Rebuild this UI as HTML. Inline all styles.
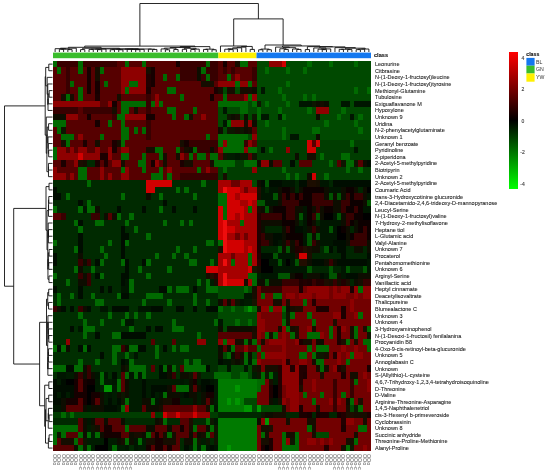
<!DOCTYPE html>
<html><head><meta charset="utf-8"><style>
html,body{margin:0;padding:0;background:#fff;}
svg{display:block;}
text{font-family:"Liberation Sans",Arial,sans-serif;}
</style></head><body>
<svg width="550" height="473" viewBox="0 0 550 473">
<defs>
<linearGradient id="cb" x1="0" y1="0" x2="0" y2="1">
<stop offset="0" stop-color="#ff0000"/>
<stop offset="0.5" stop-color="#000000"/>
<stop offset="1" stop-color="#00ff00"/>
</linearGradient>
<filter id="bl" x="-2%" y="-2%" width="104%" height="104%"><feGaussianBlur stdDeviation="0.55"/></filter>
</defs>
<rect width="550" height="473" fill="#fff"/>
<g filter="url(#bl)"><g shape-rendering="crispEdges">
<rect x="53" y="60.8" width="318" height="390.6" fill="#300000"/>
<path fill="#006a00" d="M53 60.8h4.24v6.62h-4.24zM78.44 60.8h4.24v6.62h-4.24zM125.08 60.8h4.24v6.62h-4.24zM142.04 60.8h4.24v6.62h-4.24zM205.64 60.8h4.24v6.62h-4.24zM239.56 60.8h8.48v6.62h-8.48zM307.4 60.8h4.24v6.62h-4.24zM328.6 60.8h4.24v6.62h-4.24zM354.04 60.8h4.24v6.62h-4.24zM57.24 67.42h4.24v6.62h-4.24zM78.44 67.42h4.24v6.62h-4.24zM99.64 67.42h4.24v6.62h-4.24zM201.4 67.42h4.24v6.62h-4.24zM265 67.42h4.24v6.62h-4.24zM286.2 67.42h4.24v6.62h-4.24zM303.16 67.42h4.24v6.62h-4.24zM163.24 74.04h4.24v6.62h-4.24zM175.96 74.04h4.24v6.62h-4.24zM205.64 74.04h4.24v6.62h-4.24zM226.84 74.04h4.24v6.62h-4.24zM69.96 80.66h4.24v6.62h-4.24zM103.88 80.66h4.24v6.62h-4.24zM129.32 80.66h8.48v6.62h-8.48zM235.32 80.66h4.24v6.62h-4.24zM248.04 80.66h4.24v6.62h-4.24zM286.2 80.66h4.24v6.62h-4.24zM78.44 87.28h4.24v6.62h-4.24zM125.08 87.28h4.24v6.62h-4.24zM167.48 87.28h8.48v6.62h-8.48zM277.72 87.28h4.24v6.62h-4.24zM354.04 87.28h4.24v6.62h-4.24zM366.76 87.28h4.24v6.62h-4.24zM65.72 93.9h4.24v6.62h-4.24zM78.44 93.9h4.24v6.62h-4.24zM180.2 93.9h4.24v6.62h-4.24zM222.6 93.9h4.24v6.62h-4.24zM248.04 93.9h4.24v6.62h-4.24zM281.96 93.9h4.24v6.62h-4.24zM303.16 93.9h4.24v6.62h-4.24zM311.64 93.9h4.24v6.62h-4.24zM120.84 100.52h25.44v6.62h-25.44zM150.52 100.52h4.24v6.62h-4.24zM159 100.52h4.24v6.62h-4.24zM218.36 100.52h29.68v6.62h-29.68zM252.28 100.52h4.24v6.62h-4.24zM265 100.52h4.24v6.62h-4.24zM286.2 100.52h4.24v6.62h-4.24zM120.84 107.14h8.48v6.62h-8.48zM167.48 107.14h8.48v6.62h-8.48zM192.92 107.14h4.24v6.62h-4.24zM239.56 107.14h8.48v6.62h-8.48zM256.52 107.14h4.24v6.62h-4.24zM277.72 107.14h4.24v6.62h-4.24zM307.4 107.14h4.24v6.62h-4.24zM341.32 107.14h4.24v6.62h-4.24zM116.6 113.76h8.48v6.62h-8.48zM171.72 113.76h4.24v6.62h-4.24zM184.44 113.76h4.24v6.62h-4.24zM256.52 113.76h4.24v6.62h-4.24zM281.96 113.76h4.24v6.62h-4.24zM337.08 113.76h4.24v6.62h-4.24zM358.28 113.76h4.24v6.62h-4.24zM53 120.38h12.72v6.62h-12.72zM108.12 120.38h4.24v6.62h-4.24zM120.84 120.38h4.24v6.62h-4.24zM226.84 120.38h4.24v6.62h-4.24zM265 120.38h4.24v6.62h-4.24zM324.36 120.38h4.24v6.62h-4.24zM354.04 120.38h4.24v6.62h-4.24zM57.24 127h4.24v6.62h-4.24zM120.84 127h8.48v6.62h-8.48zM133.56 127h4.24v6.62h-4.24zM142.04 127h4.24v6.62h-4.24zM281.96 127h4.24v6.62h-4.24zM311.64 127h8.48v6.62h-8.48zM358.28 127h4.24v6.62h-4.24zM61.48 133.62h12.72v6.62h-12.72zM99.64 133.62h4.24v6.62h-4.24zM120.84 133.62h8.48v6.62h-8.48zM205.64 133.62h4.24v6.62h-4.24zM218.36 133.62h29.68v6.62h-29.68zM281.96 133.62h4.24v6.62h-4.24zM65.72 140.24h4.24v6.62h-4.24zM120.84 140.24h4.24v6.62h-4.24zM218.36 140.24h4.24v6.62h-4.24zM226.84 140.24h16.96v6.62h-16.96zM349.8 140.24h4.24v6.62h-4.24zM53 146.86h4.24v6.62h-4.24zM154.76 146.86h8.48v6.62h-8.48zM175.96 146.86h4.24v6.62h-4.24zM192.92 146.86h4.24v6.62h-4.24zM222.6 146.86h21.2v6.62h-21.2zM248.04 146.86h8.48v6.62h-8.48zM269.24 146.86h4.24v6.62h-4.24zM53 153.48h4.24v6.62h-4.24zM120.84 153.48h8.48v6.62h-8.48zM142.04 153.48h4.24v6.62h-4.24zM159 153.48h4.24v6.62h-4.24zM188.68 153.48h4.24v6.62h-4.24zM197.16 153.48h8.48v6.62h-8.48zM209.88 153.48h8.48v6.62h-8.48zM320.12 153.48h4.24v6.62h-4.24zM341.32 153.48h8.48v6.62h-8.48zM137.8 160.11h8.48v6.62h-8.48zM214.12 160.11h21.2v6.62h-21.2zM243.8 160.11h12.72v6.62h-12.72zM328.6 160.11h4.24v6.62h-4.24zM345.56 160.11h8.48v6.62h-8.48zM78.44 166.73h8.48v6.62h-8.48zM120.84 166.73h4.24v6.62h-4.24zM142.04 166.73h4.24v6.62h-4.24zM159 166.73h4.24v6.62h-4.24zM197.16 166.73h4.24v6.62h-4.24zM222.6 166.73h4.24v6.62h-4.24zM281.96 166.73h4.24v6.62h-4.24zM345.56 166.73h4.24v6.62h-4.24zM358.28 166.73h4.24v6.62h-4.24zM78.44 173.35h8.48v6.62h-8.48zM150.52 173.35h12.72v6.62h-12.72zM167.48 173.35h4.24v6.62h-4.24zM286.2 173.35h4.24v6.62h-4.24zM294.68 173.35h4.24v6.62h-4.24zM324.36 173.35h4.24v6.62h-4.24zM86.92 179.97h4.24v6.62h-4.24zM201.4 179.97h4.24v6.62h-4.24zM175.96 186.59h4.24v6.62h-4.24zM184.44 186.59h4.24v6.62h-4.24zM65.72 193.21h4.24v6.62h-4.24zM120.84 193.21h4.24v6.62h-4.24zM159 193.21h4.24v6.62h-4.24zM192.92 193.21h4.24v6.62h-4.24zM218.36 193.21h8.48v6.62h-8.48zM86.92 199.83h4.24v6.62h-4.24zM218.36 199.83h8.48v6.62h-8.48zM53 206.45h4.24v6.62h-4.24zM78.44 206.45h4.24v6.62h-4.24zM86.92 206.45h8.48v6.62h-8.48zM159 206.45h4.24v6.62h-4.24zM222.6 206.45h4.24v6.62h-4.24zM248.04 206.45h4.24v6.62h-4.24zM116.6 213.07h4.24v6.62h-4.24zM129.32 213.07h4.24v6.62h-4.24zM222.6 213.07h4.24v6.62h-4.24zM74.2 219.69h4.24v6.62h-4.24zM95.4 219.69h8.48v6.62h-8.48zM125.08 219.69h4.24v6.62h-4.24zM163.24 219.69h4.24v6.62h-4.24zM180.2 219.69h4.24v6.62h-4.24zM188.68 219.69h4.24v6.62h-4.24zM239.56 219.69h4.24v6.62h-4.24zM78.44 226.31h4.24v6.62h-4.24zM133.56 226.31h4.24v6.62h-4.24zM146.28 232.93h4.24v6.62h-4.24zM53 239.55h4.24v6.62h-4.24zM108.12 239.55h4.24v6.62h-4.24zM125.08 239.55h4.24v6.62h-4.24zM205.64 239.55h8.48v6.62h-8.48zM218.36 239.55h4.24v6.62h-4.24zM74.2 246.17h4.24v6.62h-4.24zM99.64 246.17h4.24v6.62h-4.24zM175.96 246.17h4.24v6.62h-4.24zM192.92 246.17h4.24v6.62h-4.24zM103.88 252.79h4.24v6.62h-4.24zM154.76 252.79h4.24v6.62h-4.24zM171.72 252.79h4.24v6.62h-4.24zM184.44 252.79h4.24v6.62h-4.24zM248.04 252.79h4.24v6.62h-4.24zM99.64 259.41h4.24v6.62h-4.24zM120.84 259.41h4.24v6.62h-4.24zM146.28 259.41h4.24v6.62h-4.24zM188.68 259.41h8.48v6.62h-8.48zM209.88 259.41h4.24v6.62h-4.24zM231.08 259.41h4.24v6.62h-4.24zM248.04 259.41h4.24v6.62h-4.24zM74.2 266.03h4.24v6.62h-4.24zM91.16 266.03h4.24v6.62h-4.24zM137.8 266.03h4.24v6.62h-4.24zM167.48 266.03h4.24v6.62h-4.24zM53 272.65h4.24v6.62h-4.24zM99.64 272.65h4.24v6.62h-4.24zM146.28 272.65h4.24v6.62h-4.24zM248.04 272.65h8.48v6.62h-8.48zM65.72 279.27h4.24v6.62h-4.24zM129.32 279.27h4.24v6.62h-4.24zM197.16 279.27h4.24v6.62h-4.24zM205.64 279.27h4.24v6.62h-4.24zM252.28 279.27h4.24v6.62h-4.24zM129.32 285.89h4.24v6.62h-4.24zM167.48 285.89h4.24v6.62h-4.24zM175.96 285.89h12.72v6.62h-12.72zM205.64 285.89h12.72v6.62h-12.72zM243.8 285.89h4.24v6.62h-4.24zM358.28 285.89h4.24v6.62h-4.24zM57.24 292.51h4.24v6.62h-4.24zM69.96 292.51h4.24v6.62h-4.24zM91.16 292.51h4.24v6.62h-4.24zM116.6 292.51h4.24v6.62h-4.24zM146.28 292.51h16.96v6.62h-16.96zM192.92 292.51h4.24v6.62h-4.24zM260.76 292.51h4.24v6.62h-4.24zM273.48 292.51h8.48v6.62h-8.48zM57.24 299.13h4.24v6.62h-4.24zM95.4 299.13h8.48v6.62h-8.48zM142.04 299.13h4.24v6.62h-4.24zM167.48 299.13h4.24v6.62h-4.24zM192.92 299.13h4.24v6.62h-4.24zM205.64 299.13h4.24v6.62h-4.24zM303.16 299.13h4.24v6.62h-4.24zM218.36 305.75h4.24v6.62h-4.24zM231.08 305.75h4.24v6.62h-4.24zM243.8 305.75h4.24v6.62h-4.24zM252.28 305.75h4.24v6.62h-4.24zM269.24 305.75h4.24v6.62h-4.24zM281.96 305.75h4.24v6.62h-4.24zM78.44 312.37h4.24v6.62h-4.24zM108.12 312.37h4.24v6.62h-4.24zM125.08 312.37h4.24v6.62h-4.24zM133.56 312.37h4.24v6.62h-4.24zM146.28 312.37h4.24v6.62h-4.24zM290.44 312.37h4.24v6.62h-4.24zM307.4 312.37h4.24v6.62h-4.24zM358.28 312.37h4.24v6.62h-4.24zM82.68 318.99h4.24v6.62h-4.24zM99.64 318.99h4.24v6.62h-4.24zM120.84 318.99h4.24v6.62h-4.24zM171.72 318.99h4.24v6.62h-4.24zM214.12 318.99h4.24v6.62h-4.24zM235.32 318.99h4.24v6.62h-4.24zM248.04 318.99h4.24v6.62h-4.24zM281.96 318.99h4.24v6.62h-4.24zM311.64 318.99h4.24v6.62h-4.24zM82.68 325.61h12.72v6.62h-12.72zM129.32 325.61h4.24v6.62h-4.24zM171.72 325.61h12.72v6.62h-12.72zM286.2 325.61h4.24v6.62h-4.24zM328.6 325.61h4.24v6.62h-4.24zM354.04 325.61h4.24v6.62h-4.24zM366.76 325.61h4.24v6.62h-4.24zM82.68 332.23h4.24v6.62h-4.24zM112.36 332.23h8.48v6.62h-8.48zM197.16 332.23h4.24v6.62h-4.24zM265 332.23h4.24v6.62h-4.24zM273.48 332.23h4.24v6.62h-4.24zM290.44 332.23h4.24v6.62h-4.24zM307.4 332.23h12.72v6.62h-12.72zM328.6 332.23h4.24v6.62h-4.24zM354.04 332.23h4.24v6.62h-4.24zM222.6 338.85h4.24v6.62h-4.24zM243.8 338.85h4.24v6.62h-4.24zM252.28 338.85h4.24v6.62h-4.24zM345.56 338.85h4.24v6.62h-4.24zM362.52 338.85h8.48v6.62h-8.48zM53 345.47h4.24v6.62h-4.24zM61.48 345.47h4.24v6.62h-4.24zM82.68 345.47h4.24v6.62h-4.24zM112.36 345.47h8.48v6.62h-8.48zM129.32 345.47h8.48v6.62h-8.48zM154.76 345.47h4.24v6.62h-4.24zM171.72 345.47h4.24v6.62h-4.24zM180.2 345.47h8.48v6.62h-8.48zM231.08 345.47h4.24v6.62h-4.24zM256.52 345.47h4.24v6.62h-4.24zM307.4 345.47h4.24v6.62h-4.24zM315.88 345.47h12.72v6.62h-12.72zM366.76 345.47h4.24v6.62h-4.24zM112.36 352.09h4.24v6.62h-4.24zM125.08 352.09h4.24v6.62h-4.24zM154.76 352.09h4.24v6.62h-4.24zM226.84 352.09h4.24v6.62h-4.24zM243.8 352.09h4.24v6.62h-4.24zM260.76 352.09h4.24v6.62h-4.24zM298.92 352.09h8.48v6.62h-8.48zM311.64 352.09h4.24v6.62h-4.24zM349.8 352.09h4.24v6.62h-4.24zM78.44 358.72h4.24v6.62h-4.24zM95.4 358.72h4.24v6.62h-4.24zM112.36 358.72h4.24v6.62h-4.24zM129.32 358.72h4.24v6.62h-4.24zM184.44 358.72h4.24v6.62h-4.24zM192.92 358.72h8.48v6.62h-8.48zM243.8 358.72h4.24v6.62h-4.24zM252.28 358.72h4.24v6.62h-4.24zM315.88 358.72h8.48v6.62h-8.48zM345.56 358.72h4.24v6.62h-4.24zM53 365.34h12.72v6.62h-12.72zM74.2 365.34h8.48v6.62h-8.48zM129.32 365.34h16.96v6.62h-16.96zM163.24 365.34h4.24v6.62h-4.24zM171.72 365.34h4.24v6.62h-4.24zM184.44 365.34h21.2v6.62h-21.2zM320.12 365.34h4.24v6.62h-4.24zM99.64 371.96h4.24v6.62h-4.24zM125.08 371.96h4.24v6.62h-4.24zM133.56 371.96h4.24v6.62h-4.24zM142.04 371.96h4.24v6.62h-4.24zM214.12 371.96h16.96v6.62h-16.96zM239.56 371.96h8.48v6.62h-8.48zM260.76 371.96h4.24v6.62h-4.24zM269.24 371.96h4.24v6.62h-4.24zM99.64 378.58h4.24v6.62h-4.24zM116.6 378.58h4.24v6.62h-4.24zM256.52 378.58h8.48v6.62h-8.48zM354.04 378.58h4.24v6.62h-4.24zM116.6 385.2h4.24v6.62h-4.24zM175.96 385.2h12.72v6.62h-12.72zM256.52 385.2h4.24v6.62h-4.24zM163.24 391.82h4.24v6.62h-4.24zM303.16 391.82h4.24v6.62h-4.24zM320.12 391.82h4.24v6.62h-4.24zM341.32 391.82h4.24v6.62h-4.24zM125.08 398.44h4.24v6.62h-4.24zM150.52 398.44h4.24v6.62h-4.24zM311.64 398.44h4.24v6.62h-4.24zM349.8 398.44h4.24v6.62h-4.24zM120.84 405.06h4.24v6.62h-4.24zM209.88 405.06h4.24v6.62h-4.24zM358.28 405.06h4.24v6.62h-4.24zM61.48 411.68h4.24v6.62h-4.24zM69.96 411.68h4.24v6.62h-4.24zM163.24 418.3h4.24v6.62h-4.24zM205.64 418.3h4.24v6.62h-4.24zM53 424.92h25.44v6.62h-25.44zM125.08 424.92h4.24v6.62h-4.24zM192.92 424.92h4.24v6.62h-4.24zM209.88 424.92h4.24v6.62h-4.24zM307.4 424.92h4.24v6.62h-4.24zM358.28 424.92h8.48v6.62h-8.48zM53 431.54h4.24v6.62h-4.24zM61.48 431.54h4.24v6.62h-4.24zM78.44 431.54h4.24v6.62h-4.24zM86.92 431.54h4.24v6.62h-4.24zM95.4 431.54h4.24v6.62h-4.24zM146.28 431.54h4.24v6.62h-4.24zM167.48 431.54h4.24v6.62h-4.24zM205.64 431.54h4.24v6.62h-4.24zM260.76 431.54h4.24v6.62h-4.24zM281.96 431.54h4.24v6.62h-4.24zM294.68 431.54h4.24v6.62h-4.24zM53 438.16h4.24v6.62h-4.24zM74.2 438.16h4.24v6.62h-4.24zM125.08 438.16h4.24v6.62h-4.24zM137.8 438.16h4.24v6.62h-4.24zM192.92 438.16h4.24v6.62h-4.24zM281.96 438.16h4.24v6.62h-4.24zM294.68 438.16h4.24v6.62h-4.24zM354.04 438.16h4.24v6.62h-4.24zM78.44 444.78h4.24v6.62h-4.24zM86.92 444.78h4.24v6.62h-4.24zM112.36 444.78h4.24v6.62h-4.24zM192.92 444.78h4.24v6.62h-4.24zM201.4 444.78h4.24v6.62h-4.24zM281.96 444.78h16.96v6.62h-16.96zM345.56 444.78h4.24v6.62h-4.24z"/>
<path fill="#370000" d="M57.24 60.8h21.2v6.62h-21.2zM82.68 60.8h33.92v6.62h-33.92zM180.2 60.8h25.44v6.62h-25.44zM209.88 60.8h8.48v6.62h-8.48zM65.72 67.42h4.24v6.62h-4.24zM180.2 67.42h16.96v6.62h-16.96zM205.64 67.42h12.72v6.62h-12.72zM222.6 67.42h4.24v6.62h-4.24zM231.08 67.42h4.24v6.62h-4.24zM252.28 67.42h4.24v6.62h-4.24zM65.72 74.04h4.24v6.62h-4.24zM180.2 74.04h16.96v6.62h-16.96zM201.4 74.04h4.24v6.62h-4.24zM209.88 74.04h8.48v6.62h-8.48zM252.28 74.04h4.24v6.62h-4.24zM65.72 80.66h4.24v6.62h-4.24zM65.72 87.28h4.24v6.62h-4.24zM146.28 93.9h4.24v6.62h-4.24zM146.28 100.52h4.24v6.62h-4.24zM53 107.14h25.44v6.62h-25.44zM82.68 107.14h29.68v6.62h-29.68zM146.28 107.14h4.24v6.62h-4.24zM112.36 113.76h4.24v6.62h-4.24zM146.28 120.38h4.24v6.62h-4.24zM146.28 127h4.24v6.62h-4.24zM146.28 133.62h4.24v6.62h-4.24zM188.68 140.24h29.68v6.62h-29.68zM243.8 140.24h4.24v6.62h-4.24zM180.2 146.86h4.24v6.62h-4.24zM197.16 146.86h12.72v6.62h-12.72zM214.12 146.86h4.24v6.62h-4.24zM180.2 173.35h38.16v6.62h-38.16zM61.48 213.07h4.24v6.62h-4.24zM91.16 213.07h8.48v6.62h-8.48zM78.44 259.41h4.24v6.62h-4.24zM86.92 259.41h4.24v6.62h-4.24zM78.44 272.65h4.24v6.62h-4.24zM86.92 272.65h4.24v6.62h-4.24zM86.92 279.27h4.24v6.62h-4.24zM260.76 285.89h21.2v6.62h-21.2zM53 305.75h4.24v6.62h-4.24zM78.44 305.75h4.24v6.62h-4.24zM120.84 345.47h4.24v6.62h-4.24zM235.32 352.09h4.24v6.62h-4.24zM86.92 365.34h4.24v6.62h-4.24zM78.44 371.96h4.24v6.62h-4.24zM86.92 371.96h4.24v6.62h-4.24zM171.72 371.96h4.24v6.62h-4.24zM332.84 378.58h4.24v6.62h-4.24zM349.8 378.58h4.24v6.62h-4.24zM332.84 385.2h4.24v6.62h-4.24zM349.8 385.2h4.24v6.62h-4.24zM332.84 391.82h4.24v6.62h-4.24zM349.8 391.82h4.24v6.62h-4.24zM332.84 398.44h4.24v6.62h-4.24zM332.84 405.06h4.24v6.62h-4.24z"/>
<path fill="#560000" d="M116.6 60.8h8.48v6.62h-8.48zM129.32 60.8h12.72v6.62h-12.72zM146.28 60.8h29.68v6.62h-29.68zM218.36 60.8h4.24v6.62h-4.24zM226.84 60.8h8.48v6.62h-8.48zM248.04 60.8h8.48v6.62h-8.48zM53 67.42h4.24v6.62h-4.24zM61.48 67.42h4.24v6.62h-4.24zM69.96 67.42h8.48v6.62h-8.48zM82.68 67.42h4.24v6.62h-4.24zM91.16 67.42h4.24v6.62h-4.24zM103.88 67.42h16.96v6.62h-16.96zM154.76 67.42h25.44v6.62h-25.44zM218.36 67.42h4.24v6.62h-4.24zM226.84 67.42h4.24v6.62h-4.24zM235.32 67.42h16.96v6.62h-16.96zM53 74.04h12.72v6.62h-12.72zM69.96 74.04h16.96v6.62h-16.96zM91.16 74.04h4.24v6.62h-4.24zM99.64 74.04h21.2v6.62h-21.2zM154.76 74.04h8.48v6.62h-8.48zM167.48 74.04h8.48v6.62h-8.48zM218.36 74.04h8.48v6.62h-8.48zM231.08 74.04h4.24v6.62h-4.24zM239.56 74.04h12.72v6.62h-12.72zM53 80.66h12.72v6.62h-12.72zM74.2 80.66h12.72v6.62h-12.72zM91.16 80.66h4.24v6.62h-4.24zM99.64 80.66h4.24v6.62h-4.24zM108.12 80.66h12.72v6.62h-12.72zM154.76 80.66h46.64v6.62h-46.64zM214.12 80.66h4.24v6.62h-4.24zM252.28 80.66h4.24v6.62h-4.24zM53 87.28h12.72v6.62h-12.72zM69.96 87.28h8.48v6.62h-8.48zM82.68 87.28h4.24v6.62h-4.24zM91.16 87.28h4.24v6.62h-4.24zM99.64 87.28h21.2v6.62h-21.2zM150.52 87.28h16.96v6.62h-16.96zM175.96 87.28h38.16v6.62h-38.16zM53 93.9h8.48v6.62h-8.48zM74.2 93.9h4.24v6.62h-4.24zM82.68 93.9h12.72v6.62h-12.72zM99.64 93.9h16.96v6.62h-16.96zM120.84 93.9h25.44v6.62h-25.44zM150.52 93.9h4.24v6.62h-4.24zM159 93.9h21.2v6.62h-21.2zM184.44 93.9h25.44v6.62h-25.44zM214.12 93.9h8.48v6.62h-8.48zM226.84 93.9h16.96v6.62h-16.96zM99.64 100.52h8.48v6.62h-8.48zM116.6 100.52h4.24v6.62h-4.24zM163.24 100.52h55.12v6.62h-55.12zM78.44 107.14h4.24v6.62h-4.24zM116.6 107.14h4.24v6.62h-4.24zM129.32 107.14h4.24v6.62h-4.24zM137.8 107.14h8.48v6.62h-8.48zM150.52 107.14h16.96v6.62h-16.96zM175.96 107.14h16.96v6.62h-16.96zM197.16 107.14h21.2v6.62h-21.2zM78.44 113.76h8.48v6.62h-8.48zM91.16 113.76h21.2v6.62h-21.2zM154.76 113.76h16.96v6.62h-16.96zM175.96 113.76h8.48v6.62h-8.48zM192.92 113.76h8.48v6.62h-8.48zM205.64 113.76h12.72v6.62h-12.72zM65.72 120.38h29.68v6.62h-29.68zM99.64 120.38h8.48v6.62h-8.48zM112.36 120.38h8.48v6.62h-8.48zM125.08 120.38h21.2v6.62h-21.2zM150.52 120.38h67.84v6.62h-67.84zM53 127h4.24v6.62h-4.24zM65.72 127h55.12v6.62h-55.12zM129.32 127h4.24v6.62h-4.24zM137.8 127h4.24v6.62h-4.24zM150.52 127h67.84v6.62h-67.84zM252.28 127h4.24v6.62h-4.24zM53 133.62h8.48v6.62h-8.48zM74.2 133.62h4.24v6.62h-4.24zM82.68 133.62h16.96v6.62h-16.96zM103.88 133.62h16.96v6.62h-16.96zM129.32 133.62h16.96v6.62h-16.96zM150.52 133.62h55.12v6.62h-55.12zM209.88 133.62h8.48v6.62h-8.48zM53 140.24h8.48v6.62h-8.48zM69.96 140.24h12.72v6.62h-12.72zM86.92 140.24h8.48v6.62h-8.48zM99.64 140.24h12.72v6.62h-12.72zM125.08 140.24h55.12v6.62h-55.12zM252.28 140.24h4.24v6.62h-4.24zM311.64 140.24h4.24v6.62h-4.24zM65.72 146.86h4.24v6.62h-4.24zM74.2 146.86h4.24v6.62h-4.24zM86.92 146.86h8.48v6.62h-8.48zM99.64 146.86h8.48v6.62h-8.48zM116.6 146.86h4.24v6.62h-4.24zM129.32 146.86h16.96v6.62h-16.96zM163.24 146.86h12.72v6.62h-12.72zM112.36 153.48h8.48v6.62h-8.48zM129.32 153.48h12.72v6.62h-12.72zM146.28 153.48h12.72v6.62h-12.72zM167.48 153.48h8.48v6.62h-8.48zM184.44 153.48h4.24v6.62h-4.24zM192.92 153.48h4.24v6.62h-4.24zM205.64 153.48h4.24v6.62h-4.24zM218.36 153.48h4.24v6.62h-4.24zM248.04 153.48h4.24v6.62h-4.24zM53 160.11h8.48v6.62h-8.48zM65.72 160.11h8.48v6.62h-8.48zM99.64 160.11h4.24v6.62h-4.24zM108.12 160.11h4.24v6.62h-4.24zM125.08 160.11h12.72v6.62h-12.72zM146.28 160.11h4.24v6.62h-4.24zM159 160.11h4.24v6.62h-4.24zM167.48 160.11h12.72v6.62h-12.72zM192.92 160.11h16.96v6.62h-16.96zM273.48 160.11h8.48v6.62h-8.48zM298.92 160.11h12.72v6.62h-12.72zM337.08 160.11h4.24v6.62h-4.24zM358.28 160.11h4.24v6.62h-4.24zM57.24 166.73h21.2v6.62h-21.2zM86.92 166.73h12.72v6.62h-12.72zM103.88 166.73h16.96v6.62h-16.96zM129.32 166.73h12.72v6.62h-12.72zM146.28 166.73h12.72v6.62h-12.72zM163.24 166.73h4.24v6.62h-4.24zM171.72 166.73h25.44v6.62h-25.44zM201.4 166.73h4.24v6.62h-4.24zM209.88 166.73h8.48v6.62h-8.48zM65.72 173.35h4.24v6.62h-4.24zM74.2 173.35h4.24v6.62h-4.24zM86.92 173.35h12.72v6.62h-12.72zM103.88 173.35h4.24v6.62h-4.24zM112.36 173.35h8.48v6.62h-8.48zM129.32 173.35h21.2v6.62h-21.2zM163.24 173.35h4.24v6.62h-4.24zM171.72 173.35h8.48v6.62h-8.48zM53 213.07h8.48v6.62h-8.48zM108.12 213.07h4.24v6.62h-4.24zM222.6 299.13h4.24v6.62h-4.24zM231.08 299.13h4.24v6.62h-4.24zM218.36 332.23h33.92v6.62h-33.92zM150.52 338.85h4.24v6.62h-4.24zM171.72 338.85h4.24v6.62h-4.24zM222.6 345.47h4.24v6.62h-4.24zM235.32 345.47h8.48v6.62h-8.48zM248.04 345.47h8.48v6.62h-8.48zM150.52 365.34h4.24v6.62h-4.24zM180.2 365.34h4.24v6.62h-4.24zM120.84 371.96h4.24v6.62h-4.24zM192.92 371.96h4.24v6.62h-4.24zM78.44 378.58h4.24v6.62h-4.24zM120.84 378.58h4.24v6.62h-4.24zM78.44 385.2h4.24v6.62h-4.24zM120.84 385.2h4.24v6.62h-4.24zM171.72 385.2h4.24v6.62h-4.24zM192.92 385.2h4.24v6.62h-4.24zM78.44 398.44h4.24v6.62h-4.24zM95.4 398.44h4.24v6.62h-4.24zM205.64 398.44h4.24v6.62h-4.24zM65.72 405.06h16.96v6.62h-16.96zM142.04 405.06h4.24v6.62h-4.24zM163.24 405.06h29.68v6.62h-29.68zM197.16 405.06h8.48v6.62h-8.48zM78.44 418.3h4.24v6.62h-4.24zM95.4 418.3h8.48v6.62h-8.48zM108.12 418.3h12.72v6.62h-12.72zM180.2 418.3h8.48v6.62h-8.48zM78.44 424.92h4.24v6.62h-4.24zM99.64 424.92h4.24v6.62h-4.24zM112.36 424.92h12.72v6.62h-12.72zM129.32 424.92h16.96v6.62h-16.96zM154.76 424.92h12.72v6.62h-12.72zM171.72 424.92h8.48v6.62h-8.48zM184.44 424.92h4.24v6.62h-4.24zM197.16 424.92h8.48v6.62h-8.48zM65.72 431.54h12.72v6.62h-12.72zM120.84 431.54h8.48v6.62h-8.48zM150.52 431.54h4.24v6.62h-4.24zM159 431.54h4.24v6.62h-4.24zM175.96 431.54h12.72v6.62h-12.72zM192.92 431.54h4.24v6.62h-4.24zM209.88 431.54h4.24v6.62h-4.24zM57.24 438.16h4.24v6.62h-4.24zM78.44 438.16h4.24v6.62h-4.24zM175.96 438.16h4.24v6.62h-4.24zM53 444.78h21.2v6.62h-21.2zM150.52 444.78h4.24v6.62h-4.24zM163.24 444.78h4.24v6.62h-4.24zM171.72 444.78h8.48v6.62h-8.48z"/>
<path fill="#150400" d="M175.96 60.8h4.24v6.62h-4.24zM86.92 67.42h4.24v6.62h-4.24zM86.92 113.76h4.24v6.62h-4.24zM184.44 140.24h4.24v6.62h-4.24zM82.68 378.58h4.24v6.62h-4.24z"/>
<path fill="#170400" d="M222.6 60.8h4.24v6.62h-4.24z"/>
<path fill="#130900" d="M235.32 60.8h4.24v6.62h-4.24z"/>
<path fill="#004800" d="M256.52 60.8h12.72v6.62h-12.72zM286.2 60.8h21.2v6.62h-21.2zM311.64 60.8h16.96v6.62h-16.96zM332.84 60.8h21.2v6.62h-21.2zM358.28 60.8h12.72v6.62h-12.72zM256.52 67.42h8.48v6.62h-8.48zM269.24 67.42h16.96v6.62h-16.96zM290.44 67.42h12.72v6.62h-12.72zM307.4 67.42h63.6v6.62h-63.6zM256.52 74.04h114.48v6.62h-114.48zM256.52 80.66h29.68v6.62h-29.68zM290.44 80.66h80.56v6.62h-80.56zM222.6 87.28h4.24v6.62h-4.24zM235.32 87.28h4.24v6.62h-4.24zM256.52 87.28h4.24v6.62h-4.24zM265 87.28h12.72v6.62h-12.72zM281.96 87.28h72.08v6.62h-72.08zM358.28 87.28h8.48v6.62h-8.48zM256.52 93.9h25.44v6.62h-25.44zM286.2 93.9h16.96v6.62h-16.96zM307.4 93.9h4.24v6.62h-4.24zM315.88 93.9h55.12v6.62h-55.12zM248.04 100.52h4.24v6.62h-4.24zM260.76 100.52h4.24v6.62h-4.24zM269.24 100.52h16.96v6.62h-16.96zM290.44 100.52h8.48v6.62h-8.48zM328.6 100.52h12.72v6.62h-12.72zM349.8 100.52h4.24v6.62h-4.24zM218.36 107.14h4.24v6.62h-4.24zM226.84 107.14h12.72v6.62h-12.72zM248.04 107.14h8.48v6.62h-8.48zM260.76 107.14h16.96v6.62h-16.96zM281.96 107.14h25.44v6.62h-25.44zM311.64 107.14h4.24v6.62h-4.24zM328.6 107.14h12.72v6.62h-12.72zM345.56 107.14h25.44v6.62h-25.44zM218.36 113.76h8.48v6.62h-8.48zM239.56 113.76h4.24v6.62h-4.24zM248.04 113.76h4.24v6.62h-4.24zM269.24 113.76h8.48v6.62h-8.48zM286.2 113.76h29.68v6.62h-29.68zM320.12 113.76h16.96v6.62h-16.96zM341.32 113.76h8.48v6.62h-8.48zM354.04 113.76h4.24v6.62h-4.24zM362.52 113.76h8.48v6.62h-8.48zM218.36 120.38h4.24v6.62h-4.24zM256.52 120.38h8.48v6.62h-8.48zM269.24 120.38h55.12v6.62h-55.12zM328.6 120.38h25.44v6.62h-25.44zM358.28 120.38h12.72v6.62h-12.72zM222.6 127h4.24v6.62h-4.24zM256.52 127h25.44v6.62h-25.44zM286.2 127h25.44v6.62h-25.44zM320.12 127h38.16v6.62h-38.16zM362.52 127h8.48v6.62h-8.48zM248.04 133.62h4.24v6.62h-4.24zM256.52 133.62h25.44v6.62h-25.44zM286.2 133.62h4.24v6.62h-4.24zM298.92 133.62h16.96v6.62h-16.96zM320.12 133.62h50.88v6.62h-50.88zM252.28 179.97h4.24v6.62h-4.24zM218.36 285.89h25.44v6.62h-25.44zM248.04 285.89h4.24v6.62h-4.24zM218.36 292.51h25.44v6.62h-25.44zM222.6 305.75h8.48v6.62h-8.48zM235.32 305.75h8.48v6.62h-8.48zM218.36 312.37h38.16v6.62h-38.16zM281.96 312.37h4.24v6.62h-4.24zM222.6 318.99h12.72v6.62h-12.72zM239.56 318.99h8.48v6.62h-8.48zM252.28 318.99h4.24v6.62h-4.24zM222.6 325.61h4.24v6.62h-4.24zM222.6 352.09h4.24v6.62h-4.24zM252.28 352.09h4.24v6.62h-4.24zM218.36 365.34h8.48v6.62h-8.48zM231.08 365.34h12.72v6.62h-12.72zM248.04 365.34h4.24v6.62h-4.24zM231.08 371.96h8.48v6.62h-8.48zM248.04 371.96h4.24v6.62h-4.24zM243.8 398.44h12.72v6.62h-12.72zM252.28 405.06h4.24v6.62h-4.24zM260.76 405.06h21.2v6.62h-21.2zM349.8 405.06h4.24v6.62h-4.24zM315.88 431.54h12.72v6.62h-12.72z"/>
<path fill="#8e0000" d="M269.24 60.8h12.72v6.62h-12.72zM120.84 67.42h25.44v6.62h-25.44zM120.84 74.04h25.44v6.62h-25.44zM235.32 74.04h4.24v6.62h-4.24zM120.84 80.66h8.48v6.62h-8.48zM137.8 80.66h8.48v6.62h-8.48zM218.36 80.66h16.96v6.62h-16.96zM239.56 80.66h8.48v6.62h-8.48zM120.84 87.28h4.24v6.62h-4.24zM129.32 87.28h16.96v6.62h-16.96zM154.76 93.9h4.24v6.62h-4.24zM243.8 93.9h4.24v6.62h-4.24zM252.28 93.9h4.24v6.62h-4.24zM53 100.52h46.64v6.62h-46.64zM108.12 100.52h4.24v6.62h-4.24zM154.76 100.52h4.24v6.62h-4.24zM315.88 107.14h12.72v6.62h-12.72zM65.72 113.76h12.72v6.62h-12.72zM125.08 113.76h21.2v6.62h-21.2zM201.4 113.76h4.24v6.62h-4.24zM231.08 120.38h12.72v6.62h-12.72zM248.04 120.38h4.24v6.62h-4.24zM78.44 133.62h4.24v6.62h-4.24zM252.28 133.62h4.24v6.62h-4.24zM222.6 140.24h4.24v6.62h-4.24zM248.04 140.24h4.24v6.62h-4.24zM57.24 146.86h8.48v6.62h-8.48zM69.96 146.86h4.24v6.62h-4.24zM78.44 146.86h8.48v6.62h-8.48zM95.4 146.86h4.24v6.62h-4.24zM108.12 146.86h4.24v6.62h-4.24zM120.84 146.86h8.48v6.62h-8.48zM218.36 146.86h4.24v6.62h-4.24zM243.8 146.86h4.24v6.62h-4.24zM286.2 146.86h4.24v6.62h-4.24zM57.24 153.48h21.2v6.62h-21.2zM82.68 153.48h16.96v6.62h-16.96zM108.12 153.48h4.24v6.62h-4.24zM180.2 153.48h4.24v6.62h-4.24zM74.2 160.11h4.24v6.62h-4.24zM112.36 160.11h8.48v6.62h-8.48zM154.76 160.11h4.24v6.62h-4.24zM260.76 160.11h8.48v6.62h-8.48zM53 166.73h4.24v6.62h-4.24zM99.64 166.73h4.24v6.62h-4.24zM125.08 166.73h4.24v6.62h-4.24zM167.48 166.73h4.24v6.62h-4.24zM205.64 166.73h4.24v6.62h-4.24zM252.28 166.73h4.24v6.62h-4.24zM53 173.35h12.72v6.62h-12.72zM69.96 173.35h4.24v6.62h-4.24zM99.64 173.35h4.24v6.62h-4.24zM108.12 173.35h4.24v6.62h-4.24zM120.84 173.35h8.48v6.62h-8.48zM307.4 285.89h21.2v6.62h-21.2zM332.84 285.89h4.24v6.62h-4.24zM341.32 285.89h8.48v6.62h-8.48zM354.04 285.89h4.24v6.62h-4.24zM362.52 285.89h8.48v6.62h-8.48zM286.2 292.51h8.48v6.62h-8.48zM298.92 292.51h12.72v6.62h-12.72zM315.88 292.51h12.72v6.62h-12.72zM332.84 292.51h12.72v6.62h-12.72zM354.04 292.51h4.24v6.62h-4.24zM362.52 292.51h8.48v6.62h-8.48zM349.8 299.13h4.24v6.62h-4.24zM260.76 305.75h8.48v6.62h-8.48zM273.48 305.75h8.48v6.62h-8.48zM349.8 305.75h4.24v6.62h-4.24zM256.52 312.37h4.24v6.62h-4.24zM332.84 312.37h8.48v6.62h-8.48zM354.04 312.37h4.24v6.62h-4.24zM256.52 318.99h8.48v6.62h-8.48zM256.52 325.61h8.48v6.62h-8.48zM281.96 325.61h4.24v6.62h-4.24zM307.4 325.61h4.24v6.62h-4.24zM341.32 325.61h4.24v6.62h-4.24zM256.52 332.23h4.24v6.62h-4.24zM281.96 332.23h4.24v6.62h-4.24zM320.12 332.23h4.24v6.62h-4.24zM65.72 338.85h4.24v6.62h-4.24zM197.16 338.85h8.48v6.62h-8.48zM218.36 338.85h4.24v6.62h-4.24zM226.84 338.85h8.48v6.62h-8.48zM269.24 338.85h16.96v6.62h-16.96zM294.68 338.85h4.24v6.62h-4.24zM243.8 345.47h4.24v6.62h-4.24zM281.96 345.47h4.24v6.62h-4.24zM341.32 345.47h4.24v6.62h-4.24zM354.04 345.47h4.24v6.62h-4.24zM265 352.09h21.2v6.62h-21.2zM337.08 352.09h4.24v6.62h-4.24zM345.56 352.09h4.24v6.62h-4.24zM354.04 352.09h8.48v6.62h-8.48zM256.52 358.72h4.24v6.62h-4.24zM281.96 358.72h4.24v6.62h-4.24zM298.92 358.72h8.48v6.62h-8.48zM337.08 358.72h4.24v6.62h-4.24zM281.96 365.34h8.48v6.62h-8.48zM294.68 365.34h4.24v6.62h-4.24zM332.84 365.34h4.24v6.62h-4.24zM281.96 371.96h16.96v6.62h-16.96zM362.52 371.96h4.24v6.62h-4.24zM281.96 378.58h16.96v6.62h-16.96zM311.64 378.58h4.24v6.62h-4.24zM366.76 378.58h4.24v6.62h-4.24zM286.2 385.2h12.72v6.62h-12.72zM311.64 385.2h4.24v6.62h-4.24zM366.76 385.2h4.24v6.62h-4.24zM286.2 391.82h12.72v6.62h-12.72zM281.96 398.44h4.24v6.62h-4.24zM290.44 398.44h8.48v6.62h-8.48zM328.6 398.44h4.24v6.62h-4.24zM337.08 398.44h4.24v6.62h-4.24zM125.08 405.06h4.24v6.62h-4.24zM192.92 405.06h4.24v6.62h-4.24zM290.44 405.06h8.48v6.62h-8.48zM150.52 411.68h4.24v6.62h-4.24zM167.48 411.68h8.48v6.62h-8.48zM180.2 411.68h12.72v6.62h-12.72zM197.16 411.68h12.72v6.62h-12.72zM260.76 418.3h4.24v6.62h-4.24zM345.56 418.3h8.48v6.62h-8.48zM286.2 438.16h4.24v6.62h-4.24zM307.4 438.16h8.48v6.62h-8.48zM320.12 438.16h4.24v6.62h-4.24zM328.6 438.16h4.24v6.62h-4.24zM362.52 444.78h4.24v6.62h-4.24z"/>
<path fill="#d20000" d="M281.96 60.8h4.24v6.62h-4.24zM307.4 140.24h4.24v6.62h-4.24zM315.88 140.24h4.24v6.62h-4.24zM307.4 146.86h8.48v6.62h-8.48zM78.44 153.48h4.24v6.62h-4.24zM311.64 173.35h4.24v6.62h-4.24zM146.28 179.97h25.44v6.62h-25.44zM146.28 186.59h8.48v6.62h-8.48zM226.84 186.59h12.72v6.62h-12.72zM226.84 193.21h8.48v6.62h-8.48zM239.56 193.21h16.96v6.62h-16.96zM226.84 199.83h12.72v6.62h-12.72zM248.04 199.83h4.24v6.62h-4.24zM218.36 206.45h4.24v6.62h-4.24zM226.84 206.45h16.96v6.62h-16.96zM218.36 213.07h4.24v6.62h-4.24zM226.84 213.07h8.48v6.62h-8.48zM239.56 213.07h4.24v6.62h-4.24zM218.36 219.69h4.24v6.62h-4.24zM218.36 226.31h4.24v6.62h-4.24zM226.84 226.31h8.48v6.62h-8.48zM218.36 232.93h4.24v6.62h-4.24zM226.84 239.55h16.96v6.62h-16.96zM226.84 246.17h16.96v6.62h-16.96zM248.04 246.17h4.24v6.62h-4.24zM298.92 252.79h8.48v6.62h-8.48zM205.64 266.03h12.72v6.62h-12.72zM248.04 266.03h4.24v6.62h-4.24zM226.84 279.27h16.96v6.62h-16.96zM163.24 411.68h4.24v6.62h-4.24zM175.96 411.68h4.24v6.62h-4.24zM192.92 411.68h4.24v6.62h-4.24z"/>
<path fill="#120700" d="M95.4 67.42h4.24v6.62h-4.24z"/>
<path fill="#190900" d="M146.28 67.42h4.24v6.62h-4.24zM362.52 411.68h4.24v6.62h-4.24zM345.56 438.16h4.24v6.62h-4.24z"/>
<path fill="#180400" d="M150.52 67.42h4.24v6.62h-4.24zM86.92 74.04h4.24v6.62h-4.24zM150.52 74.04h4.24v6.62h-4.24zM86.92 80.66h4.24v6.62h-4.24zM95.4 80.66h4.24v6.62h-4.24zM150.52 80.66h4.24v6.62h-4.24zM86.92 87.28h4.24v6.62h-4.24zM95.4 87.28h4.24v6.62h-4.24zM209.88 93.9h4.24v6.62h-4.24zM146.28 113.76h4.24v6.62h-4.24zM95.4 120.38h4.24v6.62h-4.24zM74.2 385.2h4.24v6.62h-4.24zM82.68 385.2h4.24v6.62h-4.24zM74.2 391.82h12.72v6.62h-12.72zM91.16 391.82h8.48v6.62h-8.48zM205.64 391.82h8.48v6.62h-8.48zM74.2 398.44h4.24v6.62h-4.24zM82.68 398.44h4.24v6.62h-4.24zM91.16 398.44h4.24v6.62h-4.24zM171.72 398.44h4.24v6.62h-4.24zM103.88 424.92h8.48v6.62h-8.48zM103.88 431.54h16.96v6.62h-16.96zM154.76 431.54h4.24v6.62h-4.24zM154.76 438.16h8.48v6.62h-8.48zM146.28 444.78h4.24v6.62h-4.24zM154.76 444.78h8.48v6.62h-8.48zM167.48 444.78h4.24v6.62h-4.24z"/>
<path fill="#0f0700" d="M197.16 67.42h4.24v6.62h-4.24z"/>
<path fill="#150800" d="M95.4 74.04h4.24v6.62h-4.24zM61.48 438.16h12.72v6.62h-12.72z"/>
<path fill="#240400" d="M146.28 74.04h4.24v6.62h-4.24zM320.12 279.27h4.24v6.62h-4.24zM277.72 371.96h4.24v6.62h-4.24z"/>
<path fill="#110800" d="M197.16 74.04h4.24v6.62h-4.24z"/>
<path fill="#210400" d="M146.28 80.66h4.24v6.62h-4.24zM303.16 279.27h4.24v6.62h-4.24zM303.16 365.34h4.24v6.62h-4.24zM324.36 444.78h4.24v6.62h-4.24z"/>
<path fill="#140800" d="M201.4 80.66h4.24v6.62h-4.24zM180.2 140.24h4.24v6.62h-4.24z"/>
<path fill="#120800" d="M205.64 80.66h8.48v6.62h-8.48z"/>
<path fill="#1b0400" d="M146.28 87.28h4.24v6.62h-4.24zM95.4 93.9h4.24v6.62h-4.24z"/>
<path fill="#1a0400" d="M214.12 87.28h4.24v6.62h-4.24zM112.36 140.24h4.24v6.62h-4.24zM180.2 160.11h4.24v6.62h-4.24zM298.92 279.27h4.24v6.62h-4.24z"/>
<path fill="#160a00" d="M218.36 87.28h4.24v6.62h-4.24zM231.08 87.28h4.24v6.62h-4.24zM328.6 279.27h4.24v6.62h-4.24zM205.64 405.06h4.24v6.62h-4.24z"/>
<path fill="#180a00" d="M226.84 87.28h4.24v6.62h-4.24zM239.56 87.28h4.24v6.62h-4.24zM307.4 153.48h4.24v6.62h-4.24zM358.28 279.27h4.24v6.62h-4.24zM290.44 305.75h4.24v6.62h-4.24zM269.24 365.34h8.48v6.62h-8.48zM358.28 411.68h4.24v6.62h-4.24zM260.76 438.16h4.24v6.62h-4.24zM341.32 444.78h4.24v6.62h-4.24z"/>
<path fill="#180c00" d="M243.8 87.28h8.48v6.62h-8.48z"/>
<path fill="#0c1100" d="M252.28 87.28h4.24v6.62h-4.24z"/>
<path fill="#051400" d="M260.76 87.28h4.24v6.62h-4.24zM354.04 100.52h16.96v6.62h-16.96zM277.72 252.79h4.24v6.62h-4.24zM125.08 318.99h8.48v6.62h-8.48zM133.56 352.09h4.24v6.62h-4.24zM180.2 378.58h4.24v6.62h-4.24zM273.48 398.44h4.24v6.62h-4.24zM133.56 438.16h4.24v6.62h-4.24zM125.08 444.78h4.24v6.62h-4.24zM133.56 444.78h4.24v6.62h-4.24zM205.64 444.78h4.24v6.62h-4.24z"/>
<path fill="#190700" d="M61.48 93.9h4.24v6.62h-4.24zM69.96 93.9h4.24v6.62h-4.24zM349.8 371.96h8.48v6.62h-8.48z"/>
<path fill="#170700" d="M116.6 93.9h4.24v6.62h-4.24zM95.4 140.24h4.24v6.62h-4.24zM235.32 338.85h8.48v6.62h-8.48zM286.2 418.3h4.24v6.62h-4.24z"/>
<path fill="#190400" d="M112.36 100.52h4.24v6.62h-4.24zM150.52 160.11h4.24v6.62h-4.24z"/>
<path fill="#091400" d="M256.52 100.52h4.24v6.62h-4.24zM252.28 113.76h4.24v6.62h-4.24z"/>
<path fill="#051500" d="M298.92 100.52h4.24v6.62h-4.24zM341.32 100.52h8.48v6.62h-8.48zM265 113.76h4.24v6.62h-4.24zM349.8 113.76h4.24v6.62h-4.24zM222.6 120.38h4.24v6.62h-4.24zM281.96 179.97h8.48v6.62h-8.48zM320.12 179.97h4.24v6.62h-4.24zM239.56 299.13h4.24v6.62h-4.24zM57.24 371.96h4.24v6.62h-4.24zM108.12 391.82h4.24v6.62h-4.24zM180.2 391.82h4.24v6.62h-4.24zM57.24 405.06h4.24v6.62h-4.24z"/>
<path fill="#051600" d="M303.16 100.52h4.24v6.62h-4.24zM277.72 113.76h4.24v6.62h-4.24zM243.8 292.51h4.24v6.62h-4.24zM125.08 358.72h4.24v6.62h-4.24zM222.6 358.72h8.48v6.62h-8.48zM61.48 371.96h4.24v6.62h-4.24zM129.32 371.96h4.24v6.62h-4.24z"/>
<path fill="#051800" d="M307.4 100.52h4.24v6.62h-4.24zM235.32 153.48h4.24v6.62h-4.24zM248.04 292.51h4.24v6.62h-4.24zM248.04 358.72h4.24v6.62h-4.24zM243.8 365.34h4.24v6.62h-4.24zM112.36 378.58h4.24v6.62h-4.24z"/>
<path fill="#0a1400" d="M311.64 100.52h4.24v6.62h-4.24zM239.56 153.48h4.24v6.62h-4.24z"/>
<path fill="#0f1000" d="M315.88 100.52h4.24v6.62h-4.24zM231.08 113.76h4.24v6.62h-4.24zM286.2 305.75h4.24v6.62h-4.24zM248.04 352.09h4.24v6.62h-4.24z"/>
<path fill="#150c00" d="M320.12 100.52h4.24v6.62h-4.24zM243.8 120.38h4.24v6.62h-4.24zM248.04 127h4.24v6.62h-4.24zM311.64 153.48h4.24v6.62h-4.24zM354.04 411.68h4.24v6.62h-4.24z"/>
<path fill="#0e0f00" d="M324.36 100.52h4.24v6.62h-4.24zM256.52 160.11h4.24v6.62h-4.24zM307.4 173.35h4.24v6.62h-4.24z"/>
<path fill="#150700" d="M112.36 107.14h4.24v6.62h-4.24zM146.28 146.86h8.48v6.62h-8.48zM188.68 160.11h4.24v6.62h-4.24z"/>
<path fill="#150d00" d="M133.56 107.14h4.24v6.62h-4.24zM256.52 365.34h4.24v6.62h-4.24z"/>
<path fill="#051700" d="M222.6 107.14h4.24v6.62h-4.24zM260.76 113.76h4.24v6.62h-4.24zM273.48 186.59h4.24v6.62h-4.24zM337.08 186.59h4.24v6.62h-4.24zM366.76 193.21h4.24v6.62h-4.24zM265 199.83h12.72v6.62h-12.72zM303.16 206.45h4.24v6.62h-4.24zM362.52 206.45h8.48v6.62h-8.48zM332.84 213.07h4.24v6.62h-4.24zM324.36 219.69h16.96v6.62h-16.96zM324.36 226.31h4.24v6.62h-4.24zM332.84 226.31h4.24v6.62h-4.24zM303.16 232.93h4.24v6.62h-4.24zM320.12 232.93h16.96v6.62h-16.96zM303.16 239.55h4.24v6.62h-4.24zM281.96 252.79h12.72v6.62h-12.72zM269.24 259.41h8.48v6.62h-8.48zM281.96 259.41h4.24v6.62h-4.24zM290.44 259.41h4.24v6.62h-4.24zM273.48 266.03h33.92v6.62h-33.92zM366.76 266.03h4.24v6.62h-4.24zM260.76 272.65h16.96v6.62h-16.96zM303.16 272.65h4.24v6.62h-4.24zM125.08 279.27h4.24v6.62h-4.24zM125.08 285.89h4.24v6.62h-4.24zM226.84 365.34h4.24v6.62h-4.24zM137.8 371.96h4.24v6.62h-4.24zM214.12 405.06h4.24v6.62h-4.24zM214.12 418.3h4.24v6.62h-4.24z"/>
<path fill="#0b1000" d="M53 113.76h8.48v6.62h-8.48z"/>
<path fill="#110b00" d="M61.48 113.76h4.24v6.62h-4.24zM146.28 193.21h4.24v6.62h-4.24z"/>
<path fill="#160400" d="M150.52 113.76h4.24v6.62h-4.24zM74.2 378.58h4.24v6.62h-4.24z"/>
<path fill="#130a00" d="M188.68 113.76h4.24v6.62h-4.24zM167.48 398.44h4.24v6.62h-4.24zM95.4 424.92h4.24v6.62h-4.24zM133.56 431.54h8.48v6.62h-8.48zM163.24 431.54h4.24v6.62h-4.24z"/>
<path fill="#0b1200" d="M226.84 113.76h4.24v6.62h-4.24z"/>
<path fill="#120e00" d="M235.32 113.76h4.24v6.62h-4.24zM345.56 405.06h4.24v6.62h-4.24z"/>
<path fill="#0e1100" d="M243.8 113.76h4.24v6.62h-4.24zM265 411.68h4.24v6.62h-4.24z"/>
<path fill="#0d1000" d="M315.88 113.76h4.24v6.62h-4.24zM252.28 120.38h4.24v6.62h-4.24zM231.08 352.09h4.24v6.62h-4.24zM74.2 371.96h4.24v6.62h-4.24z"/>
<path fill="#0c1300" d="M61.48 127h4.24v6.62h-4.24zM243.8 153.48h4.24v6.62h-4.24z"/>
<path fill="#0d0f00" d="M218.36 127h4.24v6.62h-4.24zM248.04 325.61h4.24v6.62h-4.24z"/>
<path fill="#0a1600" d="M226.84 127h4.24v6.62h-4.24zM260.76 411.68h4.24v6.62h-4.24z"/>
<path fill="#0f1400" d="M231.08 127h4.24v6.62h-4.24zM120.84 398.44h4.24v6.62h-4.24z"/>
<path fill="#151000" d="M235.32 127h4.24v6.62h-4.24z"/>
<path fill="#111200" d="M239.56 127h4.24v6.62h-4.24z"/>
<path fill="#111000" d="M243.8 127h4.24v6.62h-4.24zM226.84 345.47h4.24v6.62h-4.24z"/>
<path fill="#051300" d="M290.44 133.62h8.48v6.62h-8.48zM290.44 179.97h4.24v6.62h-4.24zM324.36 179.97h4.24v6.62h-4.24zM269.24 186.59h4.24v6.62h-4.24zM332.84 186.59h4.24v6.62h-4.24zM260.76 193.21h4.24v6.62h-4.24zM82.68 206.45h4.24v6.62h-4.24zM320.12 239.55h4.24v6.62h-4.24zM142.04 305.75h8.48v6.62h-8.48zM218.36 318.99h4.24v6.62h-4.24zM78.44 325.61h4.24v6.62h-4.24zM95.4 371.96h4.24v6.62h-4.24zM103.88 371.96h4.24v6.62h-4.24zM209.88 378.58h4.24v6.62h-4.24zM159 391.82h4.24v6.62h-4.24zM154.76 398.44h4.24v6.62h-4.24z"/>
<path fill="#0d1100" d="M315.88 133.62h4.24v6.62h-4.24zM150.52 405.06h8.48v6.62h-8.48zM269.24 411.68h4.24v6.62h-4.24z"/>
<path fill="#140d00" d="M61.48 140.24h4.24v6.62h-4.24zM120.84 160.11h4.24v6.62h-4.24zM315.88 179.97h4.24v6.62h-4.24zM290.44 325.61h4.24v6.62h-4.24zM362.52 418.3h4.24v6.62h-4.24zM349.8 438.16h4.24v6.62h-4.24z"/>
<path fill="#1d0400" d="M82.68 140.24h4.24v6.62h-4.24zM99.64 153.48h4.24v6.62h-4.24zM61.48 160.11h4.24v6.62h-4.24z"/>
<path fill="#140c00" d="M116.6 140.24h4.24v6.62h-4.24zM205.64 272.65h4.24v6.62h-4.24zM311.64 424.92h4.24v6.62h-4.24z"/>
<path fill="#003c00" d="M256.52 140.24h50.88v6.62h-50.88zM320.12 140.24h29.68v6.62h-29.68zM354.04 140.24h16.96v6.62h-16.96zM256.52 146.86h4.24v6.62h-4.24zM265 146.86h4.24v6.62h-4.24zM273.48 146.86h12.72v6.62h-12.72zM290.44 146.86h16.96v6.62h-16.96zM315.88 146.86h38.16v6.62h-38.16zM358.28 146.86h12.72v6.62h-12.72zM256.52 153.48h38.16v6.62h-38.16zM298.92 153.48h8.48v6.62h-8.48zM315.88 153.48h4.24v6.62h-4.24zM324.36 153.48h16.96v6.62h-16.96zM349.8 153.48h21.2v6.62h-21.2zM235.32 160.11h8.48v6.62h-8.48zM281.96 160.11h8.48v6.62h-8.48zM294.68 160.11h4.24v6.62h-4.24zM311.64 160.11h16.96v6.62h-16.96zM332.84 160.11h4.24v6.62h-4.24zM218.36 166.73h4.24v6.62h-4.24zM226.84 166.73h25.44v6.62h-25.44zM256.52 166.73h25.44v6.62h-25.44zM286.2 166.73h59.36v6.62h-59.36zM349.8 166.73h8.48v6.62h-8.48zM362.52 166.73h8.48v6.62h-8.48zM218.36 173.35h4.24v6.62h-4.24zM226.84 173.35h59.36v6.62h-59.36zM290.44 173.35h4.24v6.62h-4.24zM298.92 173.35h8.48v6.62h-8.48zM315.88 173.35h8.48v6.62h-8.48zM328.6 173.35h42.4v6.62h-42.4z"/>
<path fill="#1c0400" d="M112.36 146.86h4.24v6.62h-4.24zM103.88 153.48h4.24v6.62h-4.24zM103.88 160.11h4.24v6.62h-4.24z"/>
<path fill="#140900" d="M184.44 146.86h4.24v6.62h-4.24zM281.96 411.68h4.24v6.62h-4.24zM171.72 431.54h4.24v6.62h-4.24zM171.72 438.16h4.24v6.62h-4.24z"/>
<path fill="#0f0c00" d="M188.68 146.86h4.24v6.62h-4.24z"/>
<path fill="#0f0a00" d="M209.88 146.86h4.24v6.62h-4.24zM277.72 279.27h4.24v6.62h-4.24z"/>
<path fill="#051100" d="M260.76 146.86h4.24v6.62h-4.24zM290.44 160.11h4.24v6.62h-4.24zM366.76 160.11h4.24v6.62h-4.24zM260.76 179.97h4.24v6.62h-4.24zM269.24 179.97h12.72v6.62h-12.72zM298.92 179.97h8.48v6.62h-8.48zM337.08 179.97h16.96v6.62h-16.96zM366.76 179.97h4.24v6.62h-4.24zM163.24 199.83h4.24v6.62h-4.24zM78.44 219.69h4.24v6.62h-4.24zM95.4 259.41h4.24v6.62h-4.24zM142.04 259.41h4.24v6.62h-4.24zM95.4 272.65h4.24v6.62h-4.24zM125.08 272.65h4.24v6.62h-4.24zM159 285.89h8.48v6.62h-8.48zM192.92 285.89h4.24v6.62h-4.24zM120.84 292.51h8.48v6.62h-8.48zM214.12 305.75h4.24v6.62h-4.24zM57.24 345.47h4.24v6.62h-4.24zM120.84 358.72h4.24v6.62h-4.24zM218.36 358.72h4.24v6.62h-4.24zM65.72 365.34h8.48v6.62h-8.48zM184.44 391.82h4.24v6.62h-4.24z"/>
<path fill="#051200" d="M354.04 146.86h4.24v6.62h-4.24zM260.76 186.59h4.24v6.62h-4.24zM328.6 186.59h4.24v6.62h-4.24zM265 193.21h8.48v6.62h-8.48zM303.16 213.07h4.24v6.62h-4.24zM303.16 219.69h4.24v6.62h-4.24zM320.12 219.69h4.24v6.62h-4.24zM303.16 226.31h4.24v6.62h-4.24zM320.12 226.31h4.24v6.62h-4.24zM277.72 239.55h4.24v6.62h-4.24zM324.36 239.55h8.48v6.62h-8.48zM366.76 259.41h4.24v6.62h-4.24zM341.32 266.03h4.24v6.62h-4.24zM324.36 272.65h4.24v6.62h-4.24zM341.32 272.65h4.24v6.62h-4.24zM120.84 285.89h4.24v6.62h-4.24zM99.64 305.75h8.48v6.62h-8.48zM137.8 305.75h4.24v6.62h-4.24zM53 405.06h4.24v6.62h-4.24zM86.92 405.06h4.24v6.62h-4.24zM116.6 405.06h4.24v6.62h-4.24zM86.92 418.3h4.24v6.62h-4.24z"/>
<path fill="#130b00" d="M163.24 153.48h4.24v6.62h-4.24z"/>
<path fill="#160700" d="M175.96 153.48h4.24v6.62h-4.24z"/>
<path fill="#0c1500" d="M222.6 153.48h4.24v6.62h-4.24z"/>
<path fill="#051b00" d="M226.84 153.48h4.24v6.62h-4.24zM256.52 272.65h4.24v6.62h-4.24zM209.88 279.27h4.24v6.62h-4.24zM65.72 371.96h8.48v6.62h-8.48zM273.48 371.96h4.24v6.62h-4.24zM95.4 378.58h4.24v6.62h-4.24zM273.48 378.58h4.24v6.62h-4.24zM95.4 385.2h4.24v6.62h-4.24zM86.92 424.92h4.24v6.62h-4.24zM91.16 431.54h4.24v6.62h-4.24zM86.92 438.16h16.96v6.62h-16.96zM108.12 438.16h8.48v6.62h-8.48zM142.04 438.16h4.24v6.62h-4.24zM201.4 438.16h4.24v6.62h-4.24zM91.16 444.78h4.24v6.62h-4.24zM108.12 444.78h4.24v6.62h-4.24zM116.6 444.78h8.48v6.62h-8.48zM137.8 444.78h8.48v6.62h-8.48zM188.68 444.78h4.24v6.62h-4.24zM197.16 444.78h4.24v6.62h-4.24z"/>
<path fill="#051a00" d="M231.08 153.48h4.24v6.62h-4.24zM243.8 299.13h4.24v6.62h-4.24zM252.28 371.96h4.24v6.62h-4.24zM214.12 378.58h4.24v6.62h-4.24zM112.36 385.2h4.24v6.62h-4.24z"/>
<path fill="#081500" d="M252.28 153.48h4.24v6.62h-4.24z"/>
<path fill="#080f00" d="M294.68 153.48h4.24v6.62h-4.24z"/>
<path fill="#1c0b00" d="M78.44 160.11h4.24v6.62h-4.24zM307.4 179.97h8.48v6.62h-8.48z"/>
<path fill="#170c00" d="M82.68 160.11h4.24v6.62h-4.24zM286.2 431.54h8.48v6.62h-8.48z"/>
<path fill="#002900" d="M86.92 160.11h8.48v6.62h-8.48zM53 179.97h33.92v6.62h-33.92zM91.16 179.97h55.12v6.62h-55.12zM171.72 179.97h29.68v6.62h-29.68zM205.64 179.97h12.72v6.62h-12.72zM57.24 186.59h89.04v6.62h-89.04zM154.76 186.59h21.2v6.62h-21.2zM180.2 186.59h4.24v6.62h-4.24zM188.68 186.59h29.68v6.62h-29.68zM61.48 193.21h4.24v6.62h-4.24zM69.96 193.21h50.88v6.62h-50.88zM125.08 193.21h21.2v6.62h-21.2zM150.52 193.21h8.48v6.62h-8.48zM163.24 193.21h29.68v6.62h-29.68zM197.16 193.21h21.2v6.62h-21.2zM53 199.83h25.44v6.62h-25.44zM82.68 199.83h4.24v6.62h-4.24zM91.16 199.83h72.08v6.62h-72.08zM167.48 199.83h50.88v6.62h-50.88zM57.24 206.45h21.2v6.62h-21.2zM99.64 206.45h16.96v6.62h-16.96zM120.84 206.45h21.2v6.62h-21.2zM146.28 206.45h12.72v6.62h-12.72zM163.24 206.45h8.48v6.62h-8.48zM175.96 206.45h16.96v6.62h-16.96zM197.16 206.45h21.2v6.62h-21.2zM65.72 213.07h25.44v6.62h-25.44zM99.64 213.07h4.24v6.62h-4.24zM120.84 213.07h8.48v6.62h-8.48zM133.56 213.07h84.8v6.62h-84.8zM53 219.69h21.2v6.62h-21.2zM82.68 219.69h12.72v6.62h-12.72zM103.88 219.69h21.2v6.62h-21.2zM129.32 219.69h33.92v6.62h-33.92zM167.48 219.69h12.72v6.62h-12.72zM184.44 219.69h4.24v6.62h-4.24zM192.92 219.69h25.44v6.62h-25.44zM53 226.31h25.44v6.62h-25.44zM82.68 226.31h38.16v6.62h-38.16zM125.08 226.31h8.48v6.62h-8.48zM137.8 226.31h80.56v6.62h-80.56zM53 232.93h25.44v6.62h-25.44zM82.68 232.93h38.16v6.62h-38.16zM129.32 232.93h16.96v6.62h-16.96zM150.52 232.93h67.84v6.62h-67.84zM57.24 239.55h21.2v6.62h-21.2zM82.68 239.55h25.44v6.62h-25.44zM112.36 239.55h8.48v6.62h-8.48zM129.32 239.55h76.32v6.62h-76.32zM214.12 239.55h4.24v6.62h-4.24zM53 246.17h21.2v6.62h-21.2zM82.68 246.17h16.96v6.62h-16.96zM103.88 246.17h16.96v6.62h-16.96zM125.08 246.17h50.88v6.62h-50.88zM180.2 246.17h12.72v6.62h-12.72zM197.16 246.17h21.2v6.62h-21.2zM57.24 252.79h21.2v6.62h-21.2zM82.68 252.79h21.2v6.62h-21.2zM108.12 252.79h12.72v6.62h-12.72zM125.08 252.79h29.68v6.62h-29.68zM159 252.79h12.72v6.62h-12.72zM175.96 252.79h8.48v6.62h-8.48zM188.68 252.79h29.68v6.62h-29.68zM57.24 259.41h21.2v6.62h-21.2zM91.16 259.41h4.24v6.62h-4.24zM103.88 259.41h16.96v6.62h-16.96zM129.32 259.41h12.72v6.62h-12.72zM150.52 259.41h38.16v6.62h-38.16zM197.16 259.41h12.72v6.62h-12.72zM214.12 259.41h4.24v6.62h-4.24zM53 266.03h21.2v6.62h-21.2zM82.68 266.03h8.48v6.62h-8.48zM95.4 266.03h29.68v6.62h-29.68zM129.32 266.03h8.48v6.62h-8.48zM142.04 266.03h25.44v6.62h-25.44zM171.72 266.03h33.92v6.62h-33.92zM57.24 272.65h21.2v6.62h-21.2zM91.16 272.65h4.24v6.62h-4.24zM103.88 272.65h16.96v6.62h-16.96zM129.32 272.65h16.96v6.62h-16.96zM150.52 272.65h55.12v6.62h-55.12zM53 279.27h12.72v6.62h-12.72zM69.96 279.27h8.48v6.62h-8.48zM91.16 279.27h29.68v6.62h-29.68zM133.56 279.27h63.6v6.62h-63.6zM201.4 279.27h4.24v6.62h-4.24zM57.24 285.89h21.2v6.62h-21.2zM82.68 285.89h16.96v6.62h-16.96zM103.88 285.89h4.24v6.62h-4.24zM112.36 285.89h8.48v6.62h-8.48zM133.56 285.89h25.44v6.62h-25.44zM171.72 285.89h4.24v6.62h-4.24zM188.68 285.89h4.24v6.62h-4.24zM197.16 285.89h8.48v6.62h-8.48zM53 292.51h4.24v6.62h-4.24zM61.48 292.51h8.48v6.62h-8.48zM74.2 292.51h4.24v6.62h-4.24zM82.68 292.51h8.48v6.62h-8.48zM95.4 292.51h21.2v6.62h-21.2zM129.32 292.51h16.96v6.62h-16.96zM163.24 292.51h29.68v6.62h-29.68zM197.16 292.51h21.2v6.62h-21.2zM53 418.3h25.44v6.62h-25.44zM125.08 418.3h29.68v6.62h-29.68zM167.48 418.3h12.72v6.62h-12.72zM192.92 418.3h12.72v6.62h-12.72zM180.2 438.16h4.24v6.62h-4.24zM209.88 438.16h4.24v6.62h-4.24zM129.32 444.78h4.24v6.62h-4.24zM180.2 444.78h4.24v6.62h-4.24z"/>
<path fill="#1a0500" d="M95.4 160.11h4.24v6.62h-4.24zM324.36 411.68h4.24v6.62h-4.24z"/>
<path fill="#140b00" d="M163.24 160.11h4.24v6.62h-4.24zM307.4 246.17h4.24v6.62h-4.24zM248.04 338.85h4.24v6.62h-4.24zM159 418.3h4.24v6.62h-4.24z"/>
<path fill="#170800" d="M184.44 160.11h4.24v6.62h-4.24z"/>
<path fill="#120d00" d="M209.88 160.11h4.24v6.62h-4.24z"/>
<path fill="#0b0e00" d="M269.24 160.11h4.24v6.62h-4.24zM188.68 385.2h4.24v6.62h-4.24zM146.28 398.44h4.24v6.62h-4.24zM159 398.44h4.24v6.62h-4.24z"/>
<path fill="#071500" d="M341.32 160.11h4.24v6.62h-4.24z"/>
<path fill="#071200" d="M354.04 160.11h4.24v6.62h-4.24z"/>
<path fill="#081100" d="M362.52 160.11h4.24v6.62h-4.24zM218.36 299.13h4.24v6.62h-4.24z"/>
<path fill="#130e00" d="M222.6 173.35h4.24v6.62h-4.24zM307.4 338.85h4.24v6.62h-4.24zM324.36 352.09h4.24v6.62h-4.24z"/>
<path fill="#a60000" d="M218.36 179.97h12.72v6.62h-12.72zM239.56 179.97h12.72v6.62h-12.72zM218.36 186.59h4.24v6.62h-4.24zM239.56 186.59h4.24v6.62h-4.24zM248.04 186.59h8.48v6.62h-8.48zM235.32 193.21h4.24v6.62h-4.24zM239.56 199.83h8.48v6.62h-8.48zM252.28 199.83h4.24v6.62h-4.24zM243.8 206.45h4.24v6.62h-4.24zM252.28 206.45h4.24v6.62h-4.24zM235.32 213.07h4.24v6.62h-4.24zM243.8 213.07h12.72v6.62h-12.72zM226.84 219.69h12.72v6.62h-12.72zM243.8 219.69h12.72v6.62h-12.72zM235.32 226.31h21.2v6.62h-21.2zM226.84 232.93h8.48v6.62h-8.48zM239.56 232.93h4.24v6.62h-4.24zM248.04 232.93h8.48v6.62h-8.48zM243.8 239.55h12.72v6.62h-12.72zM243.8 246.17h4.24v6.62h-4.24zM252.28 246.17h4.24v6.62h-4.24zM218.36 252.79h12.72v6.62h-12.72zM235.32 252.79h12.72v6.62h-12.72zM252.28 252.79h4.24v6.62h-4.24zM218.36 259.41h4.24v6.62h-4.24zM226.84 259.41h4.24v6.62h-4.24zM235.32 259.41h12.72v6.62h-12.72zM252.28 259.41h4.24v6.62h-4.24zM218.36 266.03h29.68v6.62h-29.68zM218.36 272.65h4.24v6.62h-4.24zM226.84 272.65h21.2v6.62h-21.2zM218.36 279.27h4.24v6.62h-4.24zM248.04 279.27h4.24v6.62h-4.24z"/>
<path fill="#6c0000" d="M231.08 179.97h8.48v6.62h-8.48zM243.8 186.59h4.24v6.62h-4.24zM235.32 232.93h4.24v6.62h-4.24zM243.8 232.93h4.24v6.62h-4.24zM231.08 252.79h4.24v6.62h-4.24z"/>
<path fill="#0c0f00" d="M256.52 179.97h4.24v6.62h-4.24z"/>
<path fill="#005500" d="M265 179.97h4.24v6.62h-4.24zM273.48 193.21h4.24v6.62h-4.24zM328.6 193.21h4.24v6.62h-4.24zM337.08 193.21h4.24v6.62h-4.24zM256.52 199.83h8.48v6.62h-8.48zM366.76 199.83h4.24v6.62h-4.24zM265 206.45h4.24v6.62h-4.24zM298.92 213.07h4.24v6.62h-4.24zM315.88 213.07h4.24v6.62h-4.24zM337.08 213.07h4.24v6.62h-4.24zM328.6 226.31h4.24v6.62h-4.24zM307.4 232.93h4.24v6.62h-4.24zM315.88 232.93h4.24v6.62h-4.24zM307.4 239.55h4.24v6.62h-4.24zM277.72 246.17h4.24v6.62h-4.24zM286.2 246.17h4.24v6.62h-4.24zM324.36 246.17h4.24v6.62h-4.24zM273.48 252.79h4.24v6.62h-4.24zM277.72 259.41h4.24v6.62h-4.24zM294.68 259.41h4.24v6.62h-4.24zM307.4 266.03h4.24v6.62h-4.24zM328.6 266.03h4.24v6.62h-4.24zM345.56 266.03h4.24v6.62h-4.24zM362.52 266.03h4.24v6.62h-4.24zM277.72 272.65h12.72v6.62h-12.72zM328.6 272.65h8.48v6.62h-8.48zM265 279.27h4.24v6.62h-4.24z"/>
<path fill="#002800" d="M294.68 179.97h4.24v6.62h-4.24zM328.6 179.97h4.24v6.62h-4.24zM265 186.59h4.24v6.62h-4.24zM294.68 186.59h4.24v6.62h-4.24zM358.28 186.59h4.24v6.62h-4.24zM298.92 219.69h4.24v6.62h-4.24zM315.88 219.69h4.24v6.62h-4.24zM265 226.31h16.96v6.62h-16.96zM349.8 226.31h4.24v6.62h-4.24zM260.76 246.17h16.96v6.62h-16.96zM320.12 246.17h4.24v6.62h-4.24zM332.84 246.17h4.24v6.62h-4.24zM345.56 246.17h8.48v6.62h-8.48zM362.52 246.17h4.24v6.62h-4.24zM311.64 252.79h29.68v6.62h-29.68zM345.56 252.79h21.2v6.62h-21.2zM311.64 266.03h16.96v6.62h-16.96zM332.84 266.03h8.48v6.62h-8.48zM349.8 266.03h12.72v6.62h-12.72zM349.8 279.27h4.24v6.62h-4.24zM218.36 411.68h42.4v6.62h-42.4zM286.2 411.68h12.72v6.62h-12.72zM311.64 411.68h4.24v6.62h-4.24zM328.6 411.68h8.48v6.62h-8.48z"/>
<path fill="#051000" d="M332.84 179.97h4.24v6.62h-4.24zM354.04 179.97h12.72v6.62h-12.72zM120.84 232.93h8.48v6.62h-8.48zM120.84 239.55h4.24v6.62h-4.24zM273.48 239.55h4.24v6.62h-4.24zM125.08 266.03h4.24v6.62h-4.24zM345.56 272.65h4.24v6.62h-4.24zM53 285.89h4.24v6.62h-4.24zM61.48 305.75h4.24v6.62h-4.24zM112.36 305.75h4.24v6.62h-4.24zM120.84 305.75h8.48v6.62h-8.48zM150.52 305.75h4.24v6.62h-4.24zM192.92 305.75h4.24v6.62h-4.24zM205.64 305.75h8.48v6.62h-8.48zM95.4 332.23h4.24v6.62h-4.24zM120.84 332.23h16.96v6.62h-16.96zM78.44 345.47h4.24v6.62h-4.24zM86.92 345.47h4.24v6.62h-4.24zM137.8 345.47h4.24v6.62h-4.24zM99.64 352.09h4.24v6.62h-4.24zM159 365.34h4.24v6.62h-4.24zM205.64 365.34h4.24v6.62h-4.24zM112.36 371.96h4.24v6.62h-4.24zM116.6 398.44h4.24v6.62h-4.24zM103.88 405.06h4.24v6.62h-4.24zM112.36 405.06h4.24v6.62h-4.24z"/>
<path fill="#050d00" d="M53 186.59h4.24v6.62h-4.24zM53 193.21h8.48v6.62h-8.48zM142.04 206.45h4.24v6.62h-4.24zM171.72 206.45h4.24v6.62h-4.24zM192.92 206.45h4.24v6.62h-4.24zM294.68 226.31h8.48v6.62h-8.48zM273.48 232.93h8.48v6.62h-8.48zM332.84 239.55h12.72v6.62h-12.72zM337.08 246.17h8.48v6.62h-8.48zM53 252.79h4.24v6.62h-4.24zM260.76 252.79h8.48v6.62h-8.48zM341.32 252.79h4.24v6.62h-4.24zM366.76 252.79h4.24v6.62h-4.24zM53 259.41h4.24v6.62h-4.24zM315.88 259.41h8.48v6.62h-8.48zM337.08 259.41h4.24v6.62h-4.24zM354.04 259.41h4.24v6.62h-4.24zM120.84 272.65h4.24v6.62h-4.24zM320.12 272.65h4.24v6.62h-4.24zM354.04 272.65h4.24v6.62h-4.24zM120.84 279.27h4.24v6.62h-4.24zM78.44 285.89h4.24v6.62h-4.24zM99.64 285.89h4.24v6.62h-4.24zM108.12 285.89h4.24v6.62h-4.24zM78.44 292.51h4.24v6.62h-4.24zM201.4 378.58h4.24v6.62h-4.24zM184.44 444.78h4.24v6.62h-4.24zM209.88 444.78h4.24v6.62h-4.24z"/>
<path fill="#ee0e0e" d="M222.6 186.59h4.24v6.62h-4.24zM222.6 219.69h4.24v6.62h-4.24zM222.6 226.31h4.24v6.62h-4.24zM222.6 232.93h4.24v6.62h-4.24zM222.6 239.55h4.24v6.62h-4.24zM222.6 246.17h4.24v6.62h-4.24zM222.6 259.41h4.24v6.62h-4.24zM222.6 272.65h4.24v6.62h-4.24zM222.6 279.27h4.24v6.62h-4.24z"/>
<path fill="#210900" d="M256.52 186.59h4.24v6.62h-4.24z"/>
<path fill="#0b0d00" d="M277.72 186.59h4.24v6.62h-4.24zM341.32 186.59h4.24v6.62h-4.24zM362.52 199.83h4.24v6.62h-4.24zM298.92 206.45h4.24v6.62h-4.24zM332.84 206.45h4.24v6.62h-4.24zM307.4 226.31h4.24v6.62h-4.24z"/>
<path fill="#110400" d="M281.96 186.59h8.48v6.62h-8.48zM303.16 186.59h21.2v6.62h-21.2zM345.56 186.59h8.48v6.62h-8.48zM286.2 193.21h4.24v6.62h-4.24zM303.16 193.21h8.48v6.62h-8.48zM349.8 193.21h4.24v6.62h-4.24zM298.92 199.83h12.72v6.62h-12.72zM349.8 199.83h12.72v6.62h-12.72zM273.48 206.45h12.72v6.62h-12.72zM307.4 206.45h4.24v6.62h-4.24zM324.36 206.45h8.48v6.62h-8.48zM345.56 206.45h8.48v6.62h-8.48zM358.28 206.45h4.24v6.62h-4.24zM281.96 213.07h4.24v6.62h-4.24zM307.4 213.07h4.24v6.62h-4.24zM354.04 213.07h8.48v6.62h-8.48zM286.2 219.69h8.48v6.62h-8.48zM307.4 219.69h4.24v6.62h-4.24zM358.28 219.69h12.72v6.62h-12.72zM290.44 226.31h4.24v6.62h-4.24zM341.32 226.31h4.24v6.62h-4.24zM358.28 226.31h4.24v6.62h-4.24zM366.76 226.31h4.24v6.62h-4.24zM286.2 232.93h16.96v6.62h-16.96zM366.76 232.93h4.24v6.62h-4.24zM298.92 239.55h4.24v6.62h-4.24zM294.68 272.65h8.48v6.62h-8.48zM86.92 378.58h8.48v6.62h-8.48z"/>
<path fill="#090a00" d="M290.44 186.59h4.24v6.62h-4.24zM298.92 186.59h4.24v6.62h-4.24zM345.56 239.55h4.24v6.62h-4.24zM366.76 246.17h4.24v6.62h-4.24zM82.68 259.41h4.24v6.62h-4.24z"/>
<path fill="#090d00" d="M324.36 186.59h4.24v6.62h-4.24zM362.52 193.21h4.24v6.62h-4.24zM320.12 213.07h4.24v6.62h-4.24zM294.68 219.69h4.24v6.62h-4.24zM315.88 226.31h4.24v6.62h-4.24zM315.88 239.55h4.24v6.62h-4.24zM307.4 272.65h4.24v6.62h-4.24zM218.36 352.09h4.24v6.62h-4.24zM167.48 385.2h4.24v6.62h-4.24zM125.08 391.82h4.24v6.62h-4.24z"/>
<path fill="#0d0700" d="M354.04 186.59h4.24v6.62h-4.24zM260.76 219.69h4.24v6.62h-4.24zM354.04 226.31h4.24v6.62h-4.24zM281.96 232.93h4.24v6.62h-4.24zM366.76 239.55h4.24v6.62h-4.24z"/>
<path fill="#0b0800" d="M362.52 186.59h4.24v6.62h-4.24zM269.24 219.69h12.72v6.62h-12.72zM354.04 219.69h4.24v6.62h-4.24zM260.76 226.31h4.24v6.62h-4.24zM281.96 226.31h4.24v6.62h-4.24zM345.56 226.31h4.24v6.62h-4.24zM345.56 232.93h4.24v6.62h-4.24zM197.16 385.2h4.24v6.62h-4.24zM201.4 391.82h4.24v6.62h-4.24zM61.48 398.44h4.24v6.62h-4.24z"/>
<path fill="#050400" d="M366.76 186.59h4.24v6.62h-4.24zM324.36 213.07h8.48v6.62h-8.48zM362.52 213.07h8.48v6.62h-8.48zM337.08 226.31h4.24v6.62h-4.24zM337.08 232.93h8.48v6.62h-8.48zM260.76 259.41h8.48v6.62h-8.48zM286.2 259.41h4.24v6.62h-4.24zM260.76 266.03h12.72v6.62h-12.72zM65.72 378.58h8.48v6.62h-8.48zM86.92 385.2h8.48v6.62h-8.48zM205.64 385.2h8.48v6.62h-8.48zM273.48 385.2h4.24v6.62h-4.24zM86.92 391.82h4.24v6.62h-4.24zM273.48 391.82h4.24v6.62h-4.24zM86.92 398.44h4.24v6.62h-4.24zM103.88 438.16h4.24v6.62h-4.24zM95.4 444.78h12.72v6.62h-12.72zM265 444.78h4.24v6.62h-4.24z"/>
<path fill="#1d0b00" d="M256.52 193.21h4.24v6.62h-4.24z"/>
<path fill="#0d0a00" d="M277.72 193.21h4.24v6.62h-4.24zM277.72 199.83h4.24v6.62h-4.24zM337.08 199.83h4.24v6.62h-4.24zM337.08 206.45h4.24v6.62h-4.24zM341.32 219.69h4.24v6.62h-4.24zM290.44 239.55h4.24v6.62h-4.24zM290.44 246.17h4.24v6.62h-4.24zM366.76 272.65h4.24v6.62h-4.24z"/>
<path fill="#380000" d="M281.96 193.21h4.24v6.62h-4.24zM290.44 193.21h4.24v6.62h-4.24zM298.92 193.21h4.24v6.62h-4.24zM311.64 193.21h12.72v6.62h-12.72zM345.56 193.21h4.24v6.62h-4.24zM354.04 193.21h8.48v6.62h-8.48zM281.96 199.83h16.96v6.62h-16.96zM311.64 199.83h21.2v6.62h-21.2zM341.32 199.83h8.48v6.62h-8.48zM286.2 206.45h8.48v6.62h-8.48zM315.88 206.45h4.24v6.62h-4.24zM341.32 206.45h4.24v6.62h-4.24zM354.04 206.45h4.24v6.62h-4.24zM260.76 213.07h21.2v6.62h-21.2zM286.2 213.07h8.48v6.62h-8.48zM311.64 213.07h4.24v6.62h-4.24zM345.56 213.07h8.48v6.62h-8.48zM345.56 219.69h4.24v6.62h-4.24zM286.2 226.31h4.24v6.62h-4.24zM311.64 226.31h4.24v6.62h-4.24zM362.52 226.31h4.24v6.62h-4.24zM260.76 232.93h4.24v6.62h-4.24zM354.04 232.93h12.72v6.62h-12.72zM260.76 239.55h8.48v6.62h-8.48zM286.2 239.55h4.24v6.62h-4.24zM294.68 239.55h4.24v6.62h-4.24zM311.64 239.55h4.24v6.62h-4.24zM349.8 239.55h16.96v6.62h-16.96zM328.6 259.41h4.24v6.62h-4.24zM281.96 279.27h16.96v6.62h-16.96zM311.64 279.27h4.24v6.62h-4.24zM332.84 279.27h4.24v6.62h-4.24zM362.52 279.27h8.48v6.62h-8.48z"/>
<path fill="#0f0600" d="M294.68 193.21h4.24v6.62h-4.24z"/>
<path fill="#0f0800" d="M324.36 193.21h4.24v6.62h-4.24zM294.68 206.45h4.24v6.62h-4.24zM311.64 206.45h4.24v6.62h-4.24zM320.12 206.45h4.24v6.62h-4.24z"/>
<path fill="#091000" d="M332.84 193.21h4.24v6.62h-4.24zM332.84 199.83h4.24v6.62h-4.24zM281.96 239.55h4.24v6.62h-4.24zM281.96 246.17h4.24v6.62h-4.24z"/>
<path fill="#0e0900" d="M341.32 193.21h4.24v6.62h-4.24zM269.24 206.45h4.24v6.62h-4.24zM341.32 213.07h4.24v6.62h-4.24zM290.44 272.65h4.24v6.62h-4.24zM269.24 279.27h8.48v6.62h-8.48zM184.44 438.16h4.24v6.62h-4.24z"/>
<path fill="#050f00" d="M78.44 199.83h4.24v6.62h-4.24zM116.6 206.45h4.24v6.62h-4.24zM120.84 226.31h4.24v6.62h-4.24zM78.44 232.93h4.24v6.62h-4.24zM78.44 239.55h4.24v6.62h-4.24zM78.44 246.17h4.24v6.62h-4.24zM120.84 246.17h4.24v6.62h-4.24zM328.6 246.17h4.24v6.62h-4.24zM120.84 252.79h4.24v6.62h-4.24zM269.24 252.79h4.24v6.62h-4.24zM125.08 259.41h4.24v6.62h-4.24zM311.64 259.41h4.24v6.62h-4.24zM341.32 259.41h8.48v6.62h-8.48zM362.52 259.41h4.24v6.62h-4.24zM349.8 272.65h4.24v6.62h-4.24zM159 371.96h8.48v6.62h-8.48zM163.24 385.2h4.24v6.62h-4.24zM150.52 391.82h4.24v6.62h-4.24zM108.12 405.06h4.24v6.62h-4.24z"/>
<path fill="#080d00" d="M95.4 206.45h4.24v6.62h-4.24zM311.64 246.17h4.24v6.62h-4.24zM311.64 272.65h4.24v6.62h-4.24zM337.08 272.65h4.24v6.62h-4.24zM358.28 272.65h4.24v6.62h-4.24zM180.2 371.96h4.24v6.62h-4.24z"/>
<path fill="#190a00" d="M256.52 206.45h4.24v6.62h-4.24zM256.52 305.75h4.24v6.62h-4.24zM277.72 325.61h4.24v6.62h-4.24zM269.24 332.23h4.24v6.62h-4.24zM260.76 338.85h4.24v6.62h-4.24zM311.64 431.54h4.24v6.62h-4.24z"/>
<path fill="#0a0f00" d="M260.76 206.45h4.24v6.62h-4.24zM311.64 232.93h4.24v6.62h-4.24zM218.36 325.61h4.24v6.62h-4.24z"/>
<path fill="#070e00" d="M103.88 213.07h4.24v6.62h-4.24zM78.44 252.79h4.24v6.62h-4.24z"/>
<path fill="#080e00" d="M112.36 213.07h4.24v6.62h-4.24z"/>
<path fill="#230400" d="M256.52 213.07h4.24v6.62h-4.24zM256.52 219.69h4.24v6.62h-4.24zM256.52 226.31h4.24v6.62h-4.24zM298.92 365.34h4.24v6.62h-4.24zM298.92 371.96h4.24v6.62h-4.24z"/>
<path fill="#0b0b00" d="M294.68 213.07h4.24v6.62h-4.24zM311.64 219.69h4.24v6.62h-4.24zM362.52 272.65h4.24v6.62h-4.24z"/>
<path fill="#0c0800" d="M265 219.69h4.24v6.62h-4.24zM265 232.93h4.24v6.62h-4.24zM82.68 272.65h4.24v6.62h-4.24zM82.68 279.27h4.24v6.62h-4.24z"/>
<path fill="#0e0600" d="M281.96 219.69h4.24v6.62h-4.24zM349.8 219.69h4.24v6.62h-4.24zM349.8 232.93h4.24v6.62h-4.24z"/>
<path fill="#200400" d="M256.52 232.93h4.24v6.62h-4.24zM315.88 279.27h4.24v6.62h-4.24zM311.64 299.13h4.24v6.62h-4.24zM332.84 352.09h4.24v6.62h-4.24zM337.08 365.34h4.24v6.62h-4.24zM277.72 385.2h4.24v6.62h-4.24zM277.72 391.82h4.24v6.62h-4.24zM341.32 411.68h4.24v6.62h-4.24zM341.32 418.3h4.24v6.62h-4.24z"/>
<path fill="#080b00" d="M269.24 232.93h4.24v6.62h-4.24zM269.24 239.55h4.24v6.62h-4.24zM315.88 272.65h4.24v6.62h-4.24z"/>
<path fill="#1b0500" d="M256.52 239.55h4.24v6.62h-4.24zM298.92 411.68h4.24v6.62h-4.24z"/>
<path fill="#1b0b01" d="M218.36 246.17h4.24v6.62h-4.24z"/>
<path fill="#1d0600" d="M256.52 246.17h4.24v6.62h-4.24z"/>
<path fill="#220400" d="M294.68 246.17h4.24v6.62h-4.24zM341.32 279.27h4.24v6.62h-4.24zM286.2 358.72h4.24v6.62h-4.24zM277.72 365.34h4.24v6.62h-4.24zM290.44 365.34h4.24v6.62h-4.24zM277.72 378.58h4.24v6.62h-4.24zM298.92 378.58h4.24v6.62h-4.24z"/>
<path fill="#280400" d="M298.92 246.17h4.24v6.62h-4.24z"/>
<path fill="#240a00" d="M303.16 246.17h4.24v6.62h-4.24zM298.92 259.41h8.48v6.62h-8.48z"/>
<path fill="#070b00" d="M315.88 246.17h4.24v6.62h-4.24zM78.44 279.27h4.24v6.62h-4.24z"/>
<path fill="#0a0900" d="M354.04 246.17h8.48v6.62h-8.48zM192.92 391.82h4.24v6.62h-4.24z"/>
<path fill="#200600" d="M256.52 252.79h4.24v6.62h-4.24z"/>
<path fill="#1c0d00" d="M294.68 252.79h4.24v6.62h-4.24z"/>
<path fill="#1c0800" d="M307.4 252.79h4.24v6.62h-4.24zM286.2 299.13h4.24v6.62h-4.24z"/>
<path fill="#2a0400" d="M256.52 259.41h4.24v6.62h-4.24z"/>
<path fill="#110d00" d="M307.4 259.41h4.24v6.62h-4.24zM345.56 398.44h4.24v6.62h-4.24z"/>
<path fill="#070d00" d="M324.36 259.41h4.24v6.62h-4.24zM332.84 259.41h4.24v6.62h-4.24z"/>
<path fill="#050e00" d="M349.8 259.41h4.24v6.62h-4.24zM358.28 259.41h4.24v6.62h-4.24zM69.96 305.75h4.24v6.62h-4.24zM86.92 305.75h4.24v6.62h-4.24zM116.6 305.75h4.24v6.62h-4.24zM154.76 305.75h8.48v6.62h-8.48zM175.96 305.75h8.48v6.62h-8.48zM69.96 325.61h4.24v6.62h-4.24zM146.28 325.61h4.24v6.62h-4.24zM154.76 325.61h8.48v6.62h-8.48zM137.8 332.23h8.48v6.62h-8.48zM142.04 345.47h4.24v6.62h-4.24zM163.24 345.47h4.24v6.62h-4.24zM142.04 378.58h4.24v6.62h-4.24zM205.64 378.58h4.24v6.62h-4.24zM159 385.2h4.24v6.62h-4.24z"/>
<path fill="#090c00" d="M78.44 266.03h4.24v6.62h-4.24z"/>
<path fill="#161200" d="M252.28 266.03h4.24v6.62h-4.24z"/>
<path fill="#171000" d="M256.52 266.03h4.24v6.62h-4.24z"/>
<path fill="#280a00" d="M209.88 272.65h4.24v6.62h-4.24z"/>
<path fill="#2d0400" d="M214.12 272.65h4.24v6.62h-4.24z"/>
<path fill="#141000" d="M214.12 279.27h4.24v6.62h-4.24z"/>
<path fill="#180e00" d="M243.8 279.27h4.24v6.62h-4.24z"/>
<path fill="#0e1000" d="M256.52 279.27h4.24v6.62h-4.24zM167.48 391.82h8.48v6.62h-8.48zM209.88 398.44h4.24v6.62h-4.24zM256.52 418.3h4.24v6.62h-4.24zM82.68 424.92h4.24v6.62h-4.24zM82.68 431.54h4.24v6.62h-4.24zM99.64 431.54h4.24v6.62h-4.24zM142.04 431.54h4.24v6.62h-4.24zM116.6 438.16h4.24v6.62h-4.24zM188.68 438.16h4.24v6.62h-4.24zM74.2 444.78h4.24v6.62h-4.24z"/>
<path fill="#110900" d="M260.76 279.27h4.24v6.62h-4.24z"/>
<path fill="#1e0400" d="M307.4 279.27h4.24v6.62h-4.24zM298.92 285.89h4.24v6.62h-4.24zM315.88 305.75h12.72v6.62h-12.72zM303.16 371.96h4.24v6.62h-4.24zM341.32 371.96h4.24v6.62h-4.24zM269.24 385.2h4.24v6.62h-4.24zM269.24 391.82h4.24v6.62h-4.24zM303.16 411.68h4.24v6.62h-4.24zM320.12 411.68h4.24v6.62h-4.24zM366.76 411.68h4.24v6.62h-4.24zM269.24 438.16h4.24v6.62h-4.24zM260.76 444.78h4.24v6.62h-4.24zM269.24 444.78h4.24v6.62h-4.24z"/>
<path fill="#1b0900" d="M324.36 279.27h4.24v6.62h-4.24z"/>
<path fill="#190800" d="M337.08 279.27h4.24v6.62h-4.24z"/>
<path fill="#1a0700" d="M345.56 279.27h4.24v6.62h-4.24zM298.92 305.75h4.24v6.62h-4.24zM362.52 325.61h4.24v6.62h-4.24zM358.28 398.44h4.24v6.62h-4.24z"/>
<path fill="#0f0f00" d="M354.04 279.27h4.24v6.62h-4.24z"/>
<path fill="#160c00" d="M252.28 285.89h4.24v6.62h-4.24zM303.16 338.85h4.24v6.62h-4.24zM311.64 358.72h4.24v6.62h-4.24zM265 365.34h4.24v6.62h-4.24zM269.24 378.58h4.24v6.62h-4.24z"/>
<path fill="#720000" d="M256.52 285.89h4.24v6.62h-4.24zM281.96 285.89h16.96v6.62h-16.96zM303.16 285.89h4.24v6.62h-4.24zM328.6 285.89h4.24v6.62h-4.24zM337.08 285.89h4.24v6.62h-4.24zM256.52 292.51h4.24v6.62h-4.24zM265 292.51h8.48v6.62h-8.48zM281.96 292.51h4.24v6.62h-4.24zM294.68 292.51h4.24v6.62h-4.24zM311.64 292.51h4.24v6.62h-4.24zM328.6 292.51h4.24v6.62h-4.24zM345.56 292.51h8.48v6.62h-8.48zM358.28 292.51h4.24v6.62h-4.24zM256.52 299.13h16.96v6.62h-16.96zM281.96 299.13h4.24v6.62h-4.24zM290.44 299.13h12.72v6.62h-12.72zM307.4 299.13h4.24v6.62h-4.24zM315.88 299.13h33.92v6.62h-33.92zM354.04 299.13h16.96v6.62h-16.96zM303.16 305.75h12.72v6.62h-12.72zM328.6 305.75h12.72v6.62h-12.72zM345.56 305.75h4.24v6.62h-4.24zM354.04 305.75h16.96v6.62h-16.96zM260.76 312.37h21.2v6.62h-21.2zM294.68 312.37h12.72v6.62h-12.72zM311.64 312.37h21.2v6.62h-21.2zM345.56 312.37h8.48v6.62h-8.48zM362.52 312.37h8.48v6.62h-8.48zM265 318.99h16.96v6.62h-16.96zM290.44 318.99h21.2v6.62h-21.2zM315.88 318.99h16.96v6.62h-16.96zM337.08 318.99h33.92v6.62h-33.92zM265 325.61h12.72v6.62h-12.72zM298.92 325.61h8.48v6.62h-8.48zM315.88 325.61h12.72v6.62h-12.72zM332.84 325.61h4.24v6.62h-4.24zM345.56 325.61h4.24v6.62h-4.24zM358.28 325.61h4.24v6.62h-4.24zM260.76 332.23h4.24v6.62h-4.24zM277.72 332.23h4.24v6.62h-4.24zM286.2 332.23h4.24v6.62h-4.24zM298.92 332.23h8.48v6.62h-8.48zM324.36 332.23h4.24v6.62h-4.24zM332.84 332.23h4.24v6.62h-4.24zM341.32 332.23h8.48v6.62h-8.48zM358.28 332.23h8.48v6.62h-8.48zM256.52 338.85h4.24v6.62h-4.24zM265 338.85h4.24v6.62h-4.24zM286.2 338.85h8.48v6.62h-8.48zM311.64 338.85h4.24v6.62h-4.24zM324.36 338.85h12.72v6.62h-12.72zM349.8 338.85h4.24v6.62h-4.24zM358.28 338.85h4.24v6.62h-4.24zM260.76 345.47h21.2v6.62h-21.2zM286.2 345.47h21.2v6.62h-21.2zM311.64 345.47h4.24v6.62h-4.24zM328.6 345.47h12.72v6.62h-12.72zM345.56 345.47h8.48v6.62h-8.48zM358.28 345.47h8.48v6.62h-8.48zM256.52 352.09h4.24v6.62h-4.24zM286.2 352.09h12.72v6.62h-12.72zM307.4 352.09h4.24v6.62h-4.24zM328.6 352.09h4.24v6.62h-4.24zM341.32 352.09h4.24v6.62h-4.24zM362.52 352.09h8.48v6.62h-8.48zM260.76 358.72h21.2v6.62h-21.2zM290.44 358.72h8.48v6.62h-8.48zM307.4 358.72h4.24v6.62h-4.24zM324.36 358.72h12.72v6.62h-12.72zM341.32 358.72h4.24v6.62h-4.24zM349.8 358.72h21.2v6.62h-21.2zM260.76 365.34h4.24v6.62h-4.24zM307.4 365.34h8.48v6.62h-8.48zM328.6 365.34h4.24v6.62h-4.24zM345.56 365.34h21.2v6.62h-21.2zM307.4 371.96h12.72v6.62h-12.72zM324.36 371.96h16.96v6.62h-16.96zM345.56 371.96h4.24v6.62h-4.24zM358.28 371.96h4.24v6.62h-4.24zM366.76 371.96h4.24v6.62h-4.24zM265 378.58h4.24v6.62h-4.24zM303.16 378.58h8.48v6.62h-8.48zM315.88 378.58h16.96v6.62h-16.96zM337.08 378.58h12.72v6.62h-12.72zM358.28 378.58h8.48v6.62h-8.48zM260.76 385.2h8.48v6.62h-8.48zM281.96 385.2h4.24v6.62h-4.24zM303.16 385.2h8.48v6.62h-8.48zM315.88 385.2h16.96v6.62h-16.96zM337.08 385.2h12.72v6.62h-12.72zM354.04 385.2h12.72v6.62h-12.72zM256.52 391.82h12.72v6.62h-12.72zM281.96 391.82h4.24v6.62h-4.24zM298.92 391.82h4.24v6.62h-4.24zM307.4 391.82h12.72v6.62h-12.72zM324.36 391.82h8.48v6.62h-8.48zM337.08 391.82h4.24v6.62h-4.24zM345.56 391.82h4.24v6.62h-4.24zM354.04 391.82h16.96v6.62h-16.96zM256.52 398.44h12.72v6.62h-12.72zM286.2 398.44h4.24v6.62h-4.24zM298.92 398.44h12.72v6.62h-12.72zM315.88 398.44h12.72v6.62h-12.72zM341.32 398.44h4.24v6.62h-4.24zM354.04 398.44h4.24v6.62h-4.24zM362.52 398.44h8.48v6.62h-8.48zM286.2 405.06h4.24v6.62h-4.24zM303.16 405.06h12.72v6.62h-12.72zM320.12 405.06h12.72v6.62h-12.72zM337.08 405.06h8.48v6.62h-8.48zM362.52 405.06h8.48v6.62h-8.48zM269.24 418.3h16.96v6.62h-16.96zM290.44 418.3h16.96v6.62h-16.96zM315.88 418.3h25.44v6.62h-25.44zM354.04 418.3h8.48v6.62h-8.48zM366.76 418.3h4.24v6.62h-4.24zM256.52 424.92h4.24v6.62h-4.24zM273.48 424.92h33.92v6.62h-33.92zM315.88 424.92h25.44v6.62h-25.44zM345.56 424.92h12.72v6.62h-12.72zM366.76 424.92h4.24v6.62h-4.24zM256.52 431.54h4.24v6.62h-4.24zM269.24 431.54h12.72v6.62h-12.72zM298.92 431.54h12.72v6.62h-12.72zM328.6 431.54h25.44v6.62h-25.44zM358.28 431.54h12.72v6.62h-12.72zM256.52 438.16h4.24v6.62h-4.24zM273.48 438.16h8.48v6.62h-8.48zM298.92 438.16h8.48v6.62h-8.48zM315.88 438.16h4.24v6.62h-4.24zM324.36 438.16h4.24v6.62h-4.24zM332.84 438.16h12.72v6.62h-12.72zM358.28 438.16h12.72v6.62h-12.72zM256.52 444.78h4.24v6.62h-4.24zM273.48 444.78h8.48v6.62h-8.48zM298.92 444.78h25.44v6.62h-25.44zM328.6 444.78h12.72v6.62h-12.72zM354.04 444.78h8.48v6.62h-8.48zM366.76 444.78h4.24v6.62h-4.24z"/>
<path fill="#1d0500" d="M349.8 285.89h4.24v6.62h-4.24z"/>
<path fill="#180800" d="M252.28 292.51h4.24v6.62h-4.24z"/>
<path fill="#002e00" d="M53 299.13h4.24v6.62h-4.24zM61.48 299.13h33.92v6.62h-33.92zM103.88 299.13h38.16v6.62h-38.16zM146.28 299.13h21.2v6.62h-21.2zM171.72 299.13h21.2v6.62h-21.2zM197.16 299.13h8.48v6.62h-8.48zM209.88 299.13h8.48v6.62h-8.48zM65.72 305.75h4.24v6.62h-4.24zM74.2 305.75h4.24v6.62h-4.24zM91.16 305.75h8.48v6.62h-8.48zM108.12 305.75h4.24v6.62h-4.24zM129.32 305.75h8.48v6.62h-8.48zM163.24 305.75h12.72v6.62h-12.72zM184.44 305.75h8.48v6.62h-8.48zM197.16 305.75h8.48v6.62h-8.48zM53 312.37h25.44v6.62h-25.44zM82.68 312.37h25.44v6.62h-25.44zM112.36 312.37h12.72v6.62h-12.72zM129.32 312.37h4.24v6.62h-4.24zM137.8 312.37h8.48v6.62h-8.48zM150.52 312.37h67.84v6.62h-67.84zM53 318.99h29.68v6.62h-29.68zM86.92 318.99h12.72v6.62h-12.72zM103.88 318.99h16.96v6.62h-16.96zM133.56 318.99h38.16v6.62h-38.16zM175.96 318.99h38.16v6.62h-38.16zM53 325.61h16.96v6.62h-16.96zM74.2 325.61h4.24v6.62h-4.24zM95.4 325.61h33.92v6.62h-33.92zM133.56 325.61h12.72v6.62h-12.72zM150.52 325.61h4.24v6.62h-4.24zM163.24 325.61h8.48v6.62h-8.48zM184.44 325.61h33.92v6.62h-33.92zM53 332.23h29.68v6.62h-29.68zM86.92 332.23h8.48v6.62h-8.48zM99.64 332.23h12.72v6.62h-12.72zM146.28 332.23h50.88v6.62h-50.88zM201.4 332.23h16.96v6.62h-16.96zM53 338.85h12.72v6.62h-12.72zM69.96 338.85h80.56v6.62h-80.56zM154.76 338.85h16.96v6.62h-16.96zM175.96 338.85h21.2v6.62h-21.2zM205.64 338.85h12.72v6.62h-12.72zM69.96 345.47h8.48v6.62h-8.48zM91.16 345.47h21.2v6.62h-21.2zM146.28 345.47h8.48v6.62h-8.48zM159 345.47h4.24v6.62h-4.24zM167.48 345.47h4.24v6.62h-4.24zM175.96 345.47h4.24v6.62h-4.24zM188.68 345.47h29.68v6.62h-29.68zM53 352.09h46.64v6.62h-46.64zM103.88 352.09h8.48v6.62h-8.48zM116.6 352.09h8.48v6.62h-8.48zM129.32 352.09h4.24v6.62h-4.24zM137.8 352.09h16.96v6.62h-16.96zM159 352.09h59.36v6.62h-59.36zM53 358.72h25.44v6.62h-25.44zM82.68 358.72h12.72v6.62h-12.72zM99.64 358.72h12.72v6.62h-12.72zM116.6 358.72h4.24v6.62h-4.24zM133.56 358.72h50.88v6.62h-50.88zM188.68 358.72h4.24v6.62h-4.24zM201.4 358.72h16.96v6.62h-16.96zM91.16 365.34h29.68v6.62h-29.68zM146.28 365.34h4.24v6.62h-4.24zM154.76 365.34h4.24v6.62h-4.24zM175.96 365.34h4.24v6.62h-4.24zM209.88 365.34h8.48v6.62h-8.48zM53 371.96h4.24v6.62h-4.24zM108.12 371.96h4.24v6.62h-4.24zM116.6 371.96h4.24v6.62h-4.24zM146.28 371.96h12.72v6.62h-12.72zM175.96 371.96h4.24v6.62h-4.24zM201.4 371.96h12.72v6.62h-12.72z"/>
<path fill="#0a1100" d="M226.84 299.13h4.24v6.62h-4.24zM184.44 371.96h4.24v6.62h-4.24zM175.96 391.82h4.24v6.62h-4.24zM61.48 405.06h4.24v6.62h-4.24z"/>
<path fill="#081300" d="M235.32 299.13h4.24v6.62h-4.24z"/>
<path fill="#051f00" d="M248.04 299.13h4.24v6.62h-4.24zM214.12 385.2h4.24v6.62h-4.24zM214.12 391.82h4.24v6.62h-4.24z"/>
<path fill="#121200" d="M252.28 299.13h4.24v6.62h-4.24z"/>
<path fill="#150e00" d="M273.48 299.13h8.48v6.62h-8.48z"/>
<path fill="#070f00" d="M57.24 305.75h4.24v6.62h-4.24zM82.68 305.75h4.24v6.62h-4.24zM167.48 371.96h4.24v6.62h-4.24z"/>
<path fill="#009600" d="M248.04 305.75h4.24v6.62h-4.24zM103.88 385.2h8.48v6.62h-8.48zM235.32 385.2h4.24v6.62h-4.24zM226.84 398.44h4.24v6.62h-4.24zM235.32 398.44h4.24v6.62h-4.24zM243.8 405.06h8.48v6.62h-8.48zM256.52 405.06h4.24v6.62h-4.24zM265 418.3h4.24v6.62h-4.24zM226.84 444.78h4.24v6.62h-4.24z"/>
<path fill="#1a0800" d="M294.68 305.75h4.24v6.62h-4.24zM294.68 325.61h4.24v6.62h-4.24zM320.12 371.96h4.24v6.62h-4.24z"/>
<path fill="#1f0400" d="M341.32 305.75h4.24v6.62h-4.24zM341.32 312.37h4.24v6.62h-4.24zM337.08 325.61h4.24v6.62h-4.24zM337.08 332.23h4.24v6.62h-4.24zM298.92 338.85h4.24v6.62h-4.24zM337.08 338.85h4.24v6.62h-4.24zM366.76 365.34h4.24v6.62h-4.24zM341.32 424.92h4.24v6.62h-4.24z"/>
<path fill="#0a1500" d="M286.2 312.37h4.24v6.62h-4.24zM125.08 365.34h4.24v6.62h-4.24zM197.16 438.16h4.24v6.62h-4.24z"/>
<path fill="#0e1200" d="M286.2 318.99h4.24v6.62h-4.24z"/>
<path fill="#1c0700" d="M332.84 318.99h4.24v6.62h-4.24z"/>
<path fill="#0d0d00" d="M226.84 325.61h4.24v6.62h-4.24z"/>
<path fill="#0e0d00" d="M231.08 325.61h16.96v6.62h-16.96z"/>
<path fill="#180b00" d="M252.28 325.61h4.24v6.62h-4.24z"/>
<path fill="#121000" d="M311.64 325.61h4.24v6.62h-4.24zM349.8 332.23h4.24v6.62h-4.24zM315.88 365.34h4.24v6.62h-4.24zM265 431.54h4.24v6.62h-4.24zM265 438.16h4.24v6.62h-4.24z"/>
<path fill="#170b00" d="M349.8 325.61h4.24v6.62h-4.24zM324.36 365.34h4.24v6.62h-4.24zM354.04 431.54h4.24v6.62h-4.24z"/>
<path fill="#1a0900" d="M252.28 332.23h4.24v6.62h-4.24zM294.68 332.23h4.24v6.62h-4.24zM188.68 418.3h4.24v6.62h-4.24z"/>
<path fill="#0b1500" d="M366.76 332.23h4.24v6.62h-4.24z"/>
<path fill="#111100" d="M315.88 338.85h8.48v6.62h-8.48z"/>
<path fill="#1b0800" d="M341.32 338.85h4.24v6.62h-4.24zM341.32 365.34h4.24v6.62h-4.24zM345.56 411.68h8.48v6.62h-8.48z"/>
<path fill="#1b0700" d="M354.04 338.85h4.24v6.62h-4.24z"/>
<path fill="#090f00" d="M65.72 345.47h4.24v6.62h-4.24zM120.84 365.34h4.24v6.62h-4.24z"/>
<path fill="#071000" d="M125.08 345.47h4.24v6.62h-4.24z"/>
<path fill="#0c0e00" d="M218.36 345.47h4.24v6.62h-4.24z"/>
<path fill="#130c00" d="M239.56 352.09h4.24v6.62h-4.24zM277.72 398.44h4.24v6.62h-4.24z"/>
<path fill="#091700" d="M315.88 352.09h8.48v6.62h-8.48zM82.68 438.16h4.24v6.62h-4.24z"/>
<path fill="#081200" d="M231.08 358.72h4.24v6.62h-4.24zM197.16 371.96h4.24v6.62h-4.24z"/>
<path fill="#081000" d="M235.32 358.72h4.24v6.62h-4.24z"/>
<path fill="#071400" d="M239.56 358.72h4.24v6.62h-4.24z"/>
<path fill="#0a0e00" d="M82.68 365.34h4.24v6.62h-4.24zM91.16 405.06h8.48v6.62h-8.48zM91.16 418.3h4.24v6.62h-4.24z"/>
<path fill="#071100" d="M167.48 365.34h4.24v6.62h-4.24z"/>
<path fill="#0d1200" d="M252.28 365.34h4.24v6.62h-4.24z"/>
<path fill="#100900" d="M82.68 371.96h4.24v6.62h-4.24z"/>
<path fill="#0b0900" d="M91.16 371.96h4.24v6.62h-4.24z"/>
<path fill="#091300" d="M188.68 371.96h4.24v6.62h-4.24z"/>
<path fill="#0a1700" d="M256.52 371.96h4.24v6.62h-4.24zM290.44 438.16h4.24v6.62h-4.24z"/>
<path fill="#0f1200" d="M265 371.96h4.24v6.62h-4.24z"/>
<path fill="#050c00" d="M53 378.58h4.24v6.62h-4.24z"/>
<path fill="#001e00" d="M57.24 378.58h4.24v6.62h-4.24zM129.32 378.58h12.72v6.62h-12.72zM146.28 378.58h33.92v6.62h-33.92zM184.44 378.58h4.24v6.62h-4.24zM197.16 378.58h4.24v6.62h-4.24zM129.32 385.2h12.72v6.62h-12.72zM146.28 385.2h4.24v6.62h-4.24zM57.24 391.82h4.24v6.62h-4.24zM65.72 391.82h4.24v6.62h-4.24zM112.36 391.82h4.24v6.62h-4.24zM129.32 391.82h12.72v6.62h-12.72zM146.28 391.82h4.24v6.62h-4.24zM154.76 391.82h4.24v6.62h-4.24zM197.16 391.82h4.24v6.62h-4.24zM103.88 398.44h4.24v6.62h-4.24zM112.36 398.44h4.24v6.62h-4.24zM129.32 398.44h12.72v6.62h-12.72zM180.2 398.44h12.72v6.62h-12.72zM197.16 398.44h4.24v6.62h-4.24zM129.32 405.06h12.72v6.62h-12.72z"/>
<path fill="#050b00" d="M61.48 378.58h4.24v6.62h-4.24zM53 385.2h21.2v6.62h-21.2zM142.04 385.2h4.24v6.62h-4.24zM150.52 385.2h8.48v6.62h-8.48zM201.4 385.2h4.24v6.62h-4.24zM53 391.82h4.24v6.62h-4.24zM61.48 391.82h4.24v6.62h-4.24zM69.96 391.82h4.24v6.62h-4.24zM142.04 391.82h4.24v6.62h-4.24zM53 398.44h8.48v6.62h-8.48zM108.12 398.44h4.24v6.62h-4.24z"/>
<path fill="#051d00" d="M103.88 378.58h8.48v6.62h-8.48z"/>
<path fill="#0e0a00" d="M125.08 378.58h4.24v6.62h-4.24z"/>
<path fill="#0e0b00" d="M188.68 378.58h4.24v6.62h-4.24zM103.88 418.3h4.24v6.62h-4.24z"/>
<path fill="#120600" d="M192.92 378.58h4.24v6.62h-4.24zM65.72 398.44h4.24v6.62h-4.24z"/>
<path fill="#007a00" d="M218.36 378.58h38.16v6.62h-38.16zM218.36 385.2h16.96v6.62h-16.96zM239.56 385.2h16.96v6.62h-16.96zM218.36 391.82h38.16v6.62h-38.16zM218.36 398.44h8.48v6.62h-8.48zM231.08 398.44h4.24v6.62h-4.24zM239.56 398.44h4.24v6.62h-4.24zM218.36 405.06h25.44v6.62h-25.44zM218.36 418.3h38.16v6.62h-38.16zM218.36 424.92h38.16v6.62h-38.16zM218.36 431.54h38.16v6.62h-38.16zM218.36 438.16h38.16v6.62h-38.16zM218.36 444.78h8.48v6.62h-8.48zM231.08 444.78h25.44v6.62h-25.44z"/>
<path fill="#052000" d="M99.64 385.2h4.24v6.62h-4.24z"/>
<path fill="#0d0800" d="M125.08 385.2h4.24v6.62h-4.24z"/>
<path fill="#1d0700" d="M298.92 385.2h4.24v6.62h-4.24z"/>
<path fill="#0b1100" d="M99.64 391.82h4.24v6.62h-4.24zM205.64 424.92h4.24v6.62h-4.24z"/>
<path fill="#051c00" d="M103.88 391.82h4.24v6.62h-4.24z"/>
<path fill="#0a0d00" d="M116.6 391.82h4.24v6.62h-4.24zM188.68 391.82h4.24v6.62h-4.24z"/>
<path fill="#0b1400" d="M120.84 391.82h4.24v6.62h-4.24zM354.04 405.06h4.24v6.62h-4.24zM91.16 424.92h4.24v6.62h-4.24zM82.68 444.78h4.24v6.62h-4.24z"/>
<path fill="#130600" d="M69.96 398.44h4.24v6.62h-4.24zM175.96 398.44h4.24v6.62h-4.24z"/>
<path fill="#0e0700" d="M99.64 398.44h4.24v6.62h-4.24z"/>
<path fill="#090900" d="M142.04 398.44h4.24v6.62h-4.24z"/>
<path fill="#120c00" d="M163.24 398.44h4.24v6.62h-4.24zM273.48 411.68h4.24v6.62h-4.24zM307.4 418.3h8.48v6.62h-8.48zM201.4 431.54h4.24v6.62h-4.24zM120.84 438.16h4.24v6.62h-4.24zM146.28 438.16h8.48v6.62h-8.48zM163.24 438.16h8.48v6.62h-8.48z"/>
<path fill="#110700" d="M192.92 398.44h4.24v6.62h-4.24z"/>
<path fill="#100700" d="M201.4 398.44h4.24v6.62h-4.24z"/>
<path fill="#051e00" d="M214.12 398.44h4.24v6.62h-4.24z"/>
<path fill="#0f0e00" d="M269.24 398.44h4.24v6.62h-4.24zM146.28 405.06h4.24v6.62h-4.24z"/>
<path fill="#0d0c00" d="M82.68 405.06h4.24v6.62h-4.24zM82.68 418.3h4.24v6.62h-4.24zM150.52 424.92h4.24v6.62h-4.24z"/>
<path fill="#090e00" d="M99.64 405.06h4.24v6.62h-4.24z"/>
<path fill="#150b00" d="M159 405.06h4.24v6.62h-4.24z"/>
<path fill="#150900" d="M281.96 405.06h4.24v6.62h-4.24z"/>
<path fill="#1c0500" d="M298.92 405.06h4.24v6.62h-4.24z"/>
<path fill="#160900" d="M315.88 405.06h4.24v6.62h-4.24z"/>
<path fill="#003e00" d="M53 411.68h8.48v6.62h-8.48zM65.72 411.68h4.24v6.62h-4.24zM74.2 411.68h76.32v6.62h-76.32zM154.76 411.68h8.48v6.62h-8.48zM209.88 411.68h8.48v6.62h-8.48z"/>
<path fill="#140a00" d="M277.72 411.68h4.24v6.62h-4.24z"/>
<path fill="#190600" d="M307.4 411.68h4.24v6.62h-4.24zM315.88 411.68h4.24v6.62h-4.24z"/>
<path fill="#180500" d="M337.08 411.68h4.24v6.62h-4.24z"/>
<path fill="#0c0d00" d="M120.84 418.3h4.24v6.62h-4.24z"/>
<path fill="#110a00" d="M154.76 418.3h4.24v6.62h-4.24z"/>
<path fill="#0b1300" d="M209.88 418.3h4.24v6.62h-4.24z"/>
<path fill="#0b0c00" d="M146.28 424.92h4.24v6.62h-4.24z"/>
<path fill="#0b0f00" d="M167.48 424.92h4.24v6.62h-4.24zM129.32 438.16h4.24v6.62h-4.24z"/>
<path fill="#160500" d="M180.2 424.92h4.24v6.62h-4.24z"/>
<path fill="#120900" d="M188.68 424.92h4.24v6.62h-4.24z"/>
<path fill="#091900" d="M214.12 424.92h4.24v6.62h-4.24z"/>
<path fill="#150f00" d="M260.76 424.92h8.48v6.62h-8.48z"/>
<path fill="#1a0a00" d="M269.24 424.92h4.24v6.62h-4.24z"/>
<path fill="#081800" d="M57.24 431.54h4.24v6.62h-4.24z"/>
<path fill="#100d00" d="M129.32 431.54h4.24v6.62h-4.24zM188.68 431.54h4.24v6.62h-4.24zM197.16 431.54h4.24v6.62h-4.24z"/>
<path fill="#081700" d="M214.12 431.54h4.24v6.62h-4.24z"/>
<path fill="#0a1200" d="M205.64 438.16h4.24v6.62h-4.24z"/>
<path fill="#091600" d="M214.12 438.16h4.24v6.62h-4.24z"/>
<path fill="#051900" d="M214.12 444.78h4.24v6.62h-4.24z"/>
<path fill="#0d1400" d="M349.8 444.78h4.24v6.62h-4.24z"/>
</g></g>
<rect x="53" y="52.6" width="165.36" height="5.6" fill="#3abd2c"/><rect x="218.36" y="52.6" width="38.16" height="5.6" fill="#fff000"/><rect x="256.52" y="52.6" width="114.48" height="5.6" fill="#1478f0"/>
<path fill="none" stroke="#111" stroke-width="0.9" d="M59.36 52V49.27H63.6V52M67.84 52V49.6H72.08V52M61.48 49.27V49.17H69.96V49.6M55.12 52V48.68H65.72V49.17M60.42 48.68V48.21H76.32V52M80.56 52V49.59H84.8V52M89.04 52V49.42H93.28V52M97.52 52V49.66H101.76V52M91.16 49.42V49.21H99.64V49.66M95.4 49.21V49H106V52M110.24 52V49.71H114.48V52M118.72 52V49.75H122.96V52M112.36 49.71V49.29H120.84V49.75M135.68 52V49.68H139.92V52M131.44 52V49.36H137.8V49.68M134.62 49.36V49.33H144.16V52M127.2 52V49.18H139.39V49.33M116.6 49.29V49.1H133.3V49.18M152.64 52V49.45H156.88V52M148.4 52V49.17H154.76V49.45M124.95 49.1V49.01H151.58V49.17M100.7 49V48.91H138.26V49.01M82.68 49.59V48.26H119.48V48.91M68.37 48.21V47.3H101.08V48.26M165.36 52V49.77H169.6V52M161.12 52V48.93H167.48V49.77M173.84 52V49.45H178.08V52M164.3 48.93V48.13H175.96V49.45M182.32 52V49.28H186.56V52M190.8 52V49.46H195.04V52M192.92 49.46V49.13H199.28V52M184.44 49.28V48.3H196.1V49.13M170.13 48.13V47.49H190.27V48.3M203.52 52V49.42H207.76V52M212 52V49.74H216.24V52M205.64 49.42V49.17H214.12V49.74M180.2 47.49V46.61H209.88V49.17M84.73 47.3V46.1H195.04V46.61M228.96 52V49.6H233.2V52M224.72 52V49.22H231.08V49.6M227.9 49.22V48.81H237.44V52M232.67 48.81V47.8H241.68V52M237.18 47.8V47.16H245.92V52M250.16 52V49.41H254.4V52M241.55 47.16V46.44H252.28V49.41M220.48 52V46H246.91V46.44M258.64 52V49.77H262.88V52M267.12 52V49.73H271.36V52M260.76 49.77V49.09H269.24V49.73M284.08 52V49.42H288.32V52M279.84 52V48.77H286.2V49.42M296.8 52V49.43H301.04V52M292.56 52V49H298.92V49.43M283.02 48.77V47.66H295.74V49M275.6 52V47.09H289.38V47.66M305.28 52V49.57H309.52V52M322.24 52V49.62H326.48V52M318 52V49.2H324.36V49.62M321.18 49.2V48.93H330.72V52M313.76 52V47.96H325.95V48.93M339.2 52V49.33H343.44V52M347.68 52V49.59H351.92V52M341.32 49.33V49.25H349.8V49.59M356.16 52V49.63H360.4V52M358.28 49.63V49.13H364.64V52M361.46 49.13V49H368.88V52M345.56 49.25V48.2H365.17V49M334.96 52V47.64H355.37V48.2M319.86 47.96V46.88H345.16V47.64M307.4 49.57V46.63H332.51V46.88M282.49 47.09V45.96H319.95V46.63M265 49.09V45H301.22V45.96M233.7 46V18.9H283.11V45M139.88 46.1V3.5H258.4V18.9M52.5 64.11H48.79V70.73H52.5M52.5 90.59H49.17V97.21H52.5M49.17 93.9H48.24V103.83H52.5M48.24 98.87H48V110.45H52.5M52.5 83.97H47.78V104.66H48M52.5 77.35H47.16V94.32H47.78M48.79 67.42H45.69V85.83H47.16M52.5 123.69H48.59V130.31H52.5M52.5 150.17H48.65V156.79H52.5M52.5 143.55H48.26V153.48H48.65M52.5 136.93H48.01V148.52H48.26M48.59 127H47.29V142.73H48.01M52.5 163.42H48.44V170.04H52.5M48.44 166.73H48.48V176.66H52.5M47.29 134.87H46.88V171.69H48.48M52.5 117.07H46.26V153.28H46.88M45.69 76.63H45.2V135.18H46.26M52.5 183.28H49.02V189.9H52.5M52.5 196.52H48.75V203.14H52.5M48.75 199.83H48.57V209.76H52.5M48.57 204.79H48.49V216.38H52.5M52.5 229.62H48.49V236.24H52.5M48.49 232.93H48.34V242.86H52.5M52.5 223H48.2V237.89H48.34M52.5 249.48H49.1V256.1H52.5M52.5 262.72H48.72V269.34H52.5M49.1 252.79H48.37V266.03H48.72M52.5 275.96H48.98V282.58H52.5M48.37 259.41H47.94V279.27H48.98M48.2 230.45H47.78V269.34H47.94M48.49 210.59H47.04V249.89H47.78M49.02 186.59H46V230.24H47.04M52.5 289.2H48.7V295.82H52.5M52.5 302.44H48.56V309.06H52.5M48.7 292.51H47.73V305.75H48.56M52.5 335.54H48.79V342.16H52.5M52.5 328.92H48.42V338.85H48.79M52.5 322.3H48.2V333.89H48.42M52.5 315.68H47.93V328.1H48.2M52.5 348.78H48.41V355.41H52.5M48.41 352.09H48.36V362.03H52.5M48.36 357.06H48.06V368.65H52.5M48.06 362.85H47.86V375.27H52.5M47.93 321.89H47.71V369.06H47.86M47.73 299.13H46.5V345.47H47.71M52.5 381.89H48.82V388.51H52.5M52.5 395.13H48.71V401.75H52.5M52.5 414.99H49.15V421.61H52.5M52.5 408.37H48.41V418.3H49.15M48.41 413.33H48.25V428.23H52.5M48.71 398.44H46.04V420.78H48.25M52.5 434.85H49.1V441.47H52.5M49.1 438.16H48.38V448.09H52.5M46.04 409.61H45.5V443.12H48.38M48.82 385.2H44.7V426.37H45.5M46.5 322.3H39.6V405.78H44.7M46 208.41H13.7V364.04H39.6M45.2 105.9H4.5V286.23H13.7"/>
<g font-size="5.5" fill="#1c1c1c" stroke="#1c1c1c" stroke-width="0.08">
<text x="375" y="66.11">Leonurine</text>
<text x="375" y="72.73">Citbrasine</text>
<text x="375" y="79.35">N-(1-Deoxy-1-fructosyl)leucine</text>
<text x="375" y="85.97">N-(1-Deoxy-1-fructosyl)tyrosine</text>
<text x="375" y="92.59">Methionyl-Glutamine</text>
<text x="375" y="99.21">Tubulosine</text>
<text x="375" y="105.83">Exiguaflavanone M</text>
<text x="375" y="112.45">Hypoxylone</text>
<text x="375" y="119.07">Unknown 9</text>
<text x="375" y="125.69">Uridina</text>
<text x="375" y="132.31">N-2-phenylacetylglutaminate</text>
<text x="375" y="138.93">Unknown 1</text>
<text x="375" y="145.55">Geranyl benzoate</text>
<text x="375" y="152.17">Pyridinoline</text>
<text x="375" y="158.79">2-piperidona</text>
<text x="375" y="165.42">2-Acetyl-5-methylpyridine</text>
<text x="375" y="172.04">Biotripyrin</text>
<text x="375" y="178.66">Unknown 2</text>
<text x="375" y="185.28">2-Acetyl-5-methylpyridine</text>
<text x="375" y="191.9">Coumaric Acid</text>
<text x="375" y="198.52">trans-3-Hydroxycotinine glucuronide</text>
<text x="375" y="205.14">2,4-Diacetamido-2,4,6-trideoxy-D-mannopyranose</text>
<text x="375" y="211.76">Leucyl-Serine</text>
<text x="375" y="218.38">N-(1-Deoxy-1-fructosyl)valine</text>
<text x="375" y="225">7-Hydroxy-2-methylisoflavone</text>
<text x="375" y="231.62">Heptane tiol</text>
<text x="375" y="238.24">L-Glutamic acid</text>
<text x="375" y="244.86">Valyl-Alanine</text>
<text x="375" y="251.48">Unknown 7</text>
<text x="375" y="258.1">Procaterol</text>
<text x="375" y="264.72">Pentahomomethionine</text>
<text x="375" y="271.34">Unknown 6</text>
<text x="375" y="277.96">Arginyl-Serine</text>
<text x="375" y="284.58">Vanillactic acid</text>
<text x="375" y="291.2">Heptyl cinnamate</text>
<text x="375" y="297.82">Deacetylisovaltrate</text>
<text x="375" y="304.44">Thalicpureine</text>
<text x="375" y="311.06">Blumealactone C</text>
<text x="375" y="317.68">Unknown 3</text>
<text x="375" y="324.3">Unknown 4</text>
<text x="375" y="330.92">3-Hydroxyaminophenol</text>
<text x="375" y="337.54">N-(1-Desoxi-1-fructosil) fenilalanina</text>
<text x="375" y="344.16">Procyanidin B8</text>
<text x="375" y="350.78">4-Oxo-9-cis-retinoyl-beta-glucuronide</text>
<text x="375" y="357.41">Unknown 5</text>
<text x="375" y="364.03">Annoglabasin C</text>
<text x="375" y="370.65">Unknown</text>
<text x="375" y="377.27">S-(Allylthio)-L-cysteine</text>
<text x="375" y="383.89">4,6,7-Trihydroxy-1,2,3,4-tetrahydroisoquinoline</text>
<text x="375" y="390.51">D-Threonine</text>
<text x="375" y="397.13">D-Valine</text>
<text x="375" y="403.75">Arginine-Threonine-Asparagine</text>
<text x="375" y="410.37">1,4,5-Naphthalenetriol</text>
<text x="375" y="416.99">cis-3-Hexenyl b-primeveroside</text>
<text x="375" y="423.61">Cyclobrassinin</text>
<text x="375" y="430.23">Unknown 8</text>
<text x="375" y="436.85">Succinic anhydride</text>
<text x="375" y="443.47">Threonine-Proline-Methionine</text>
<text x="375" y="450.09">Alanyl-Proline</text>
</g>
<text x="374" y="57.2" font-size="5.6" font-weight="bold" fill="#111" stroke="#111" stroke-width="0.12">class</text>
<g font-size="5.4" fill="#787878" stroke="#787878" stroke-width="0.08">
<text transform="translate(53.17 453.9) rotate(90)">OOo</text>
<text transform="translate(57.41 453.9) rotate(90)">OOo</text>
<text transform="translate(61.65 453.9) rotate(90)">OOo</text>
<text transform="translate(65.89 453.9) rotate(90)">OOo</text>
<text transform="translate(70.13 453.9) rotate(90)">OOo</text>
<text transform="translate(74.37 453.9) rotate(90)">OOo</text>
<text transform="translate(78.61 453.9) rotate(90)">OOo-c</text>
<text transform="translate(82.85 453.9) rotate(90)">OOo-c</text>
<text transform="translate(87.09 453.9) rotate(90)">OOo-c</text>
<text transform="translate(91.33 453.9) rotate(90)">OOo-c</text>
<text transform="translate(95.57 453.9) rotate(90)">OOo-c</text>
<text transform="translate(99.81 453.9) rotate(90)">OOo-c</text>
<text transform="translate(104.05 453.9) rotate(90)">OOo-c</text>
<text transform="translate(108.29 453.9) rotate(90)">OOo-c</text>
<text transform="translate(112.53 453.9) rotate(90)">OOo-c</text>
<text transform="translate(116.77 453.9) rotate(90)">OOo-c</text>
<text transform="translate(121.01 453.9) rotate(90)">OOo-c</text>
<text transform="translate(125.25 453.9) rotate(90)">OOo-c</text>
<text transform="translate(129.49 453.9) rotate(90)">OOo-c</text>
<text transform="translate(133.73 453.9) rotate(90)">OOo</text>
<text transform="translate(137.97 453.9) rotate(90)">OOo</text>
<text transform="translate(142.21 453.9) rotate(90)">OOo</text>
<text transform="translate(146.45 453.9) rotate(90)">OOo</text>
<text transform="translate(150.69 453.9) rotate(90)">OOo</text>
<text transform="translate(154.93 453.9) rotate(90)">OOo</text>
<text transform="translate(159.17 453.9) rotate(90)">OOo</text>
<text transform="translate(163.41 453.9) rotate(90)">OOo</text>
<text transform="translate(167.65 453.9) rotate(90)">OOo</text>
<text transform="translate(171.89 453.9) rotate(90)">OOo</text>
<text transform="translate(176.13 453.9) rotate(90)">OOo</text>
<text transform="translate(180.37 453.9) rotate(90)">OOo</text>
<text transform="translate(184.61 453.9) rotate(90)">OOo</text>
<text transform="translate(188.85 453.9) rotate(90)">OOo</text>
<text transform="translate(193.09 453.9) rotate(90)">OOo</text>
<text transform="translate(197.33 453.9) rotate(90)">OOo</text>
<text transform="translate(201.57 453.9) rotate(90)">OOo</text>
<text transform="translate(205.81 453.9) rotate(90)">OOo</text>
<text transform="translate(210.05 453.9) rotate(90)">OOo</text>
<text transform="translate(214.29 453.9) rotate(90)">OOo</text>
<text transform="translate(218.53 453.9) rotate(90)">OOo</text>
<text transform="translate(222.77 453.9) rotate(90)">OOo</text>
<text transform="translate(227.01 453.9) rotate(90)">OOo</text>
<text transform="translate(231.25 453.9) rotate(90)">OOo</text>
<text transform="translate(235.49 453.9) rotate(90)">OOo</text>
<text transform="translate(239.73 453.9) rotate(90)">OOo</text>
<text transform="translate(243.97 453.9) rotate(90)">OOo</text>
<text transform="translate(248.21 453.9) rotate(90)">OOo</text>
<text transform="translate(252.45 453.9) rotate(90)">OOo</text>
<text transform="translate(256.69 453.9) rotate(90)">OOo</text>
<text transform="translate(260.93 453.9) rotate(90)">OOo</text>
<text transform="translate(265.17 453.9) rotate(90)">OOo</text>
<text transform="translate(269.41 453.9) rotate(90)">OOo</text>
<text transform="translate(273.65 453.9) rotate(90)">OOo</text>
<text transform="translate(277.89 453.9) rotate(90)">OOo-c</text>
<text transform="translate(282.13 453.9) rotate(90)">OOo-c</text>
<text transform="translate(286.37 453.9) rotate(90)">OOo-c</text>
<text transform="translate(290.61 453.9) rotate(90)">OOo-c</text>
<text transform="translate(294.85 453.9) rotate(90)">OOo-c</text>
<text transform="translate(299.09 453.9) rotate(90)">OOo-c</text>
<text transform="translate(303.33 453.9) rotate(90)">OOo-c</text>
<text transform="translate(307.57 453.9) rotate(90)">OOo-c</text>
<text transform="translate(311.81 453.9) rotate(90)">OOo</text>
<text transform="translate(316.05 453.9) rotate(90)">OOo</text>
<text transform="translate(320.29 453.9) rotate(90)">OOo</text>
<text transform="translate(324.53 453.9) rotate(90)">OOo</text>
<text transform="translate(328.77 453.9) rotate(90)">OOo</text>
<text transform="translate(333.01 453.9) rotate(90)">OOo-c</text>
<text transform="translate(337.25 453.9) rotate(90)">OOo-c</text>
<text transform="translate(341.49 453.9) rotate(90)">OOo-c</text>
<text transform="translate(345.73 453.9) rotate(90)">OOo-c</text>
<text transform="translate(349.97 453.9) rotate(90)">OOo-c</text>
<text transform="translate(354.21 453.9) rotate(90)">OOo-c</text>
<text transform="translate(358.45 453.9) rotate(90)">OOo-c</text>
<text transform="translate(362.69 453.9) rotate(90)">OOo</text>
<text transform="translate(366.93 453.9) rotate(90)">OOo</text>
</g>
<rect x="509" y="52" width="9" height="137" fill="url(#cb)"/>
<g font-size="5" fill="#333" stroke="#333" stroke-width="0.1">
<text x="521.5" y="60.3">4</text>
<text x="521.5" y="91.3">2</text>
<text x="521.5" y="122.6">0</text>
<text x="520.3" y="154.4">-2</text>
<text x="520.3" y="185.5">-4</text>
</g>
<text x="526.3" y="56" font-size="5.2" font-weight="bold" fill="#111" stroke="#111" stroke-width="0.12">class</text>
<rect x="526.4" y="57.9" width="8.2" height="7.8" fill="#1478f0"/>
<rect x="526.4" y="65.7" width="8.2" height="7.8" fill="#3abd2c"/>
<rect x="526.4" y="73.5" width="8.2" height="8.2" fill="#fff000"/>
<g font-size="5.2" fill="#333">
<text x="536" y="63.6">BL</text>
<text x="536" y="71.4">GN</text>
<text x="536" y="79.4">YW</text>
</g>
</svg>
</body></html>
